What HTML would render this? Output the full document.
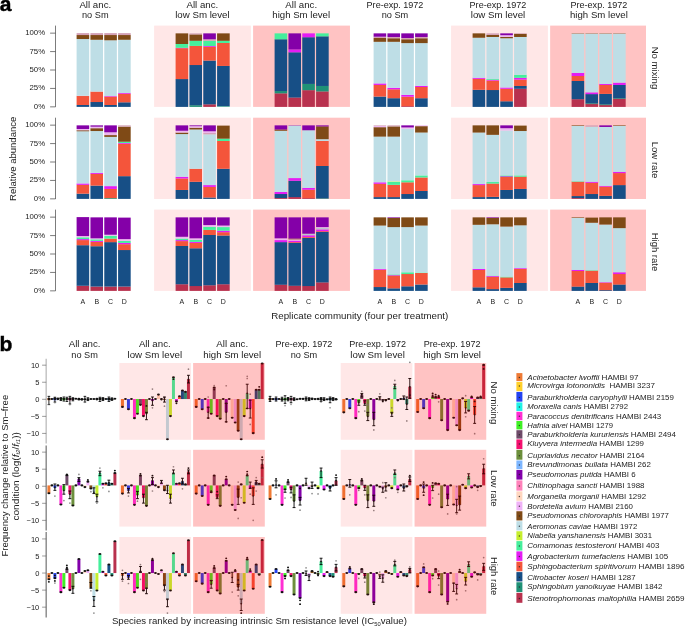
<!DOCTYPE html>
<html lang="en"><head><meta charset="utf-8"><title>Figure</title>
<style>
html,body{margin:0;padding:0;background:#fff;}
body{width:685px;height:627px;overflow:hidden;font-family:"Liberation Sans", sans-serif;}
svg{display:block;}
text{white-space:pre;}
</style></head><body>
<svg width="685" height="627" viewBox="0 0 685 627" font-family='"Liberation Sans", sans-serif' shape-rendering="auto">
<rect x="154.1" y="25.6" width="96.75" height="81.3" fill="#FFE7E7"/>
<rect x="253.1" y="25.6" width="96.85" height="81.3" fill="#FFC3C3"/>
<rect x="451.05" y="25.6" width="96.85" height="81.3" fill="#FFE7E7"/>
<rect x="550.15" y="25.6" width="95.85" height="81.3" fill="#FFC3C3"/>
<path d="M55.5 25.6V106.9" stroke="#444" stroke-width="0.7" fill="none"/>
<path d="M50.1 33.15H55.5" stroke="#444" stroke-width="0.7" fill="none"/>
<text x="45.1" y="35.15" font-size="7.8" text-anchor="end" fill="#222">100%</text>
<path d="M50.1 51.58H55.5" stroke="#444" stroke-width="0.7" fill="none"/>
<text x="45.1" y="53.58" font-size="7.8" text-anchor="end" fill="#222">75%</text>
<path d="M50.1 70H55.5" stroke="#444" stroke-width="0.7" fill="none"/>
<text x="45.1" y="72" font-size="7.8" text-anchor="end" fill="#222">50%</text>
<path d="M50.1 88.43H55.5" stroke="#444" stroke-width="0.7" fill="none"/>
<text x="45.1" y="90.43" font-size="7.8" text-anchor="end" fill="#222">25%</text>
<path d="M50.1 106.85H55.5" stroke="#444" stroke-width="0.7" fill="none"/>
<text x="45.1" y="108.85" font-size="7.8" text-anchor="end" fill="#222">0%</text>
<rect x="76.6" y="104.94" width="12.6" height="1.96" fill="#174F86"/>
<rect x="76.6" y="96.01" width="12.6" height="8.98" fill="#F4553B"/>
<rect x="76.6" y="95.62" width="12.6" height="0.43" fill="#D3A0B5"/>
<rect x="76.6" y="38.97" width="12.6" height="56.7" fill="#BEDEE6"/>
<rect x="76.6" y="35.02" width="12.6" height="4.01" fill="#7F4A16"/>
<rect x="76.6" y="33.1" width="12.6" height="1.96" fill="#D3A0B5"/>
<rect x="90.43" y="102" width="12.6" height="4.9" fill="#174F86"/>
<rect x="90.43" y="91.54" width="12.6" height="10.51" fill="#F4553B"/>
<rect x="90.43" y="39.74" width="12.6" height="51.85" fill="#BEDEE6"/>
<rect x="90.43" y="35.02" width="12.6" height="4.77" fill="#7F4A16"/>
<rect x="90.43" y="33.1" width="12.6" height="1.96" fill="#D3A0B5"/>
<rect x="104.26" y="104.94" width="12.6" height="1.96" fill="#174F86"/>
<rect x="104.26" y="96.52" width="12.6" height="8.47" fill="#F4553B"/>
<rect x="104.26" y="96.01" width="12.6" height="0.56" fill="#E41CF4"/>
<rect x="104.26" y="40.25" width="12.6" height="55.81" fill="#BEDEE6"/>
<rect x="104.26" y="35.02" width="12.6" height="5.28" fill="#7F4A16"/>
<rect x="104.26" y="33.1" width="12.6" height="1.96" fill="#D3A0B5"/>
<rect x="118.09" y="102.26" width="12.6" height="4.64" fill="#174F86"/>
<rect x="118.09" y="93.71" width="12.6" height="8.6" fill="#F4553B"/>
<rect x="118.09" y="92.94" width="12.6" height="0.82" fill="#E41CF4"/>
<rect x="118.09" y="39.74" width="12.6" height="53.26" fill="#BEDEE6"/>
<rect x="118.09" y="35.02" width="12.6" height="4.77" fill="#7F4A16"/>
<rect x="118.09" y="33.1" width="12.6" height="1.96" fill="#D3A0B5"/>
<rect x="175.6" y="79.04" width="12.6" height="27.86" fill="#174F86"/>
<rect x="175.6" y="48.16" width="12.6" height="30.93" fill="#F4553B"/>
<rect x="175.6" y="47.78" width="12.6" height="0.43" fill="#E41CF4"/>
<rect x="175.6" y="43.95" width="12.6" height="3.88" fill="#45EF9C"/>
<rect x="175.6" y="33.36" width="12.6" height="10.64" fill="#7F4A16"/>
<rect x="189.43" y="105.19" width="12.6" height="1.71" fill="#1F9176"/>
<rect x="189.43" y="65" width="12.6" height="40.24" fill="#174F86"/>
<rect x="189.43" y="45.86" width="12.6" height="19.19" fill="#F4553B"/>
<rect x="189.43" y="40.76" width="12.6" height="5.15" fill="#45EF9C"/>
<rect x="189.43" y="34.38" width="12.6" height="6.43" fill="#7F4A16"/>
<rect x="189.43" y="33.36" width="12.6" height="1.07" fill="#D3A0B5"/>
<rect x="203.26" y="104.3" width="12.6" height="2.6" fill="#B8314E"/>
<rect x="203.26" y="60.54" width="12.6" height="43.81" fill="#174F86"/>
<rect x="203.26" y="46.76" width="12.6" height="13.83" fill="#F4553B"/>
<rect x="203.26" y="45.99" width="12.6" height="0.82" fill="#E41CF4"/>
<rect x="203.26" y="40.76" width="12.6" height="5.28" fill="#45EF9C"/>
<rect x="203.26" y="39.23" width="12.6" height="1.58" fill="#D3A0B5"/>
<rect x="203.26" y="33.36" width="12.6" height="5.92" fill="#8400A8"/>
<rect x="217.09" y="106.34" width="12.6" height="0.56" fill="#45EF9C"/>
<rect x="217.09" y="65.89" width="12.6" height="40.5" fill="#174F86"/>
<rect x="217.09" y="42.93" width="12.6" height="23.02" fill="#F4553B"/>
<rect x="217.09" y="40.76" width="12.6" height="2.22" fill="#45EF9C"/>
<rect x="217.09" y="33.36" width="12.6" height="7.45" fill="#7F4A16"/>
<rect x="274.6" y="93.33" width="12.6" height="13.57" fill="#B8314E"/>
<rect x="274.6" y="91.03" width="12.6" height="2.35" fill="#1F9176"/>
<rect x="274.6" y="39.23" width="12.6" height="51.85" fill="#174F86"/>
<rect x="274.6" y="33.36" width="12.6" height="5.92" fill="#45EF9C"/>
<rect x="288.43" y="97.54" width="12.6" height="9.36" fill="#B8314E"/>
<rect x="288.43" y="52.24" width="12.6" height="45.35" fill="#174F86"/>
<rect x="288.43" y="49.44" width="12.6" height="2.86" fill="#E41CF4"/>
<rect x="288.43" y="33.36" width="12.6" height="16.13" fill="#8400A8"/>
<rect x="302.26" y="90.14" width="12.6" height="16.76" fill="#B8314E"/>
<rect x="302.26" y="83.89" width="12.6" height="6.3" fill="#1F9176"/>
<rect x="302.26" y="37.19" width="12.6" height="46.75" fill="#174F86"/>
<rect x="302.26" y="33.36" width="12.6" height="3.88" fill="#E41CF4"/>
<rect x="316.09" y="91.41" width="12.6" height="15.49" fill="#B8314E"/>
<rect x="316.09" y="85.93" width="12.6" height="5.54" fill="#1F9176"/>
<rect x="316.09" y="36.29" width="12.6" height="49.68" fill="#174F86"/>
<rect x="316.09" y="33.36" width="12.6" height="2.98" fill="#45EF9C"/>
<rect x="373.6" y="96.52" width="12.6" height="10.38" fill="#174F86"/>
<rect x="373.6" y="84.91" width="12.6" height="11.66" fill="#F4553B"/>
<rect x="373.6" y="83.37" width="12.6" height="1.58" fill="#E41CF4"/>
<rect x="373.6" y="41.78" width="12.6" height="41.64" fill="#BEDEE6"/>
<rect x="373.6" y="37.95" width="12.6" height="3.88" fill="#7F4A16"/>
<rect x="373.6" y="36.68" width="12.6" height="1.33" fill="#D3A0B5"/>
<rect x="373.6" y="33.36" width="12.6" height="3.37" fill="#8400A8"/>
<rect x="387.43" y="98.18" width="12.6" height="8.73" fill="#174F86"/>
<rect x="387.43" y="89.24" width="12.6" height="8.98" fill="#F4553B"/>
<rect x="387.43" y="87.71" width="12.6" height="1.58" fill="#E41CF4"/>
<rect x="387.43" y="41.78" width="12.6" height="45.98" fill="#BEDEE6"/>
<rect x="387.43" y="38.21" width="12.6" height="3.62" fill="#7F4A16"/>
<rect x="387.43" y="36.93" width="12.6" height="1.33" fill="#D3A0B5"/>
<rect x="387.43" y="33.36" width="12.6" height="3.62" fill="#8400A8"/>
<rect x="401.26" y="106.09" width="12.6" height="0.82" fill="#B8314E"/>
<rect x="401.26" y="96.64" width="12.6" height="9.49" fill="#F4553B"/>
<rect x="401.26" y="94.86" width="12.6" height="1.84" fill="#E41CF4"/>
<rect x="401.26" y="43.06" width="12.6" height="51.85" fill="#BEDEE6"/>
<rect x="401.26" y="39.23" width="12.6" height="3.88" fill="#7F4A16"/>
<rect x="401.26" y="37.95" width="12.6" height="1.33" fill="#D3A0B5"/>
<rect x="401.26" y="33.36" width="12.6" height="4.64" fill="#8400A8"/>
<rect x="415.09" y="98.18" width="12.6" height="8.73" fill="#174F86"/>
<rect x="415.09" y="86.95" width="12.6" height="11.28" fill="#F4553B"/>
<rect x="415.09" y="85.8" width="12.6" height="1.2" fill="#E41CF4"/>
<rect x="415.09" y="43.06" width="12.6" height="42.79" fill="#BEDEE6"/>
<rect x="415.09" y="38.21" width="12.6" height="4.9" fill="#7F4A16"/>
<rect x="415.09" y="36.93" width="12.6" height="1.33" fill="#D3A0B5"/>
<rect x="415.09" y="33.36" width="12.6" height="3.62" fill="#8400A8"/>
<rect x="472.6" y="89.75" width="12.6" height="17.15" fill="#174F86"/>
<rect x="472.6" y="78.78" width="12.6" height="11.02" fill="#F4553B"/>
<rect x="472.6" y="77.76" width="12.6" height="1.07" fill="#E41CF4"/>
<rect x="472.6" y="37.7" width="12.6" height="40.11" fill="#BEDEE6"/>
<rect x="472.6" y="33.36" width="12.6" height="4.39" fill="#7F4A16"/>
<rect x="486.43" y="90.01" width="12.6" height="16.89" fill="#174F86"/>
<rect x="486.43" y="80.57" width="12.6" height="9.49" fill="#F4553B"/>
<rect x="486.43" y="79.8" width="12.6" height="0.82" fill="#E41CF4"/>
<rect x="486.43" y="79.04" width="12.6" height="0.82" fill="#45EF9C"/>
<rect x="486.43" y="36.93" width="12.6" height="42.16" fill="#BEDEE6"/>
<rect x="486.43" y="34.89" width="12.6" height="2.09" fill="#7F4A16"/>
<rect x="486.43" y="33.36" width="12.6" height="1.58" fill="#D3A0B5"/>
<rect x="500.26" y="101.24" width="12.6" height="5.66" fill="#174F86"/>
<rect x="500.26" y="88.73" width="12.6" height="12.55" fill="#F4553B"/>
<rect x="500.26" y="87.46" width="12.6" height="1.33" fill="#E41CF4"/>
<rect x="500.26" y="38.21" width="12.6" height="49.3" fill="#BEDEE6"/>
<rect x="500.26" y="36.93" width="12.6" height="1.33" fill="#7F4A16"/>
<rect x="500.26" y="35.15" width="12.6" height="1.84" fill="#EDB6EF"/>
<rect x="500.26" y="33.36" width="12.6" height="1.84" fill="#8400A8"/>
<rect x="514.09" y="88.73" width="12.6" height="18.17" fill="#B8314E"/>
<rect x="514.09" y="85.93" width="12.6" height="2.86" fill="#174F86"/>
<rect x="514.09" y="79.55" width="12.6" height="6.43" fill="#F4553B"/>
<rect x="514.09" y="77.76" width="12.6" height="1.84" fill="#E41CF4"/>
<rect x="514.09" y="74.7" width="12.6" height="3.11" fill="#45EF9C"/>
<rect x="514.09" y="36.93" width="12.6" height="37.82" fill="#BEDEE6"/>
<rect x="514.09" y="33.87" width="12.6" height="3.11" fill="#7F4A16"/>
<rect x="514.09" y="33.36" width="12.6" height="0.56" fill="#D3A0B5"/>
<rect x="571.6" y="99.2" width="12.6" height="7.71" fill="#B8314E"/>
<rect x="571.6" y="80.95" width="12.6" height="18.3" fill="#174F86"/>
<rect x="571.6" y="75.97" width="12.6" height="5.03" fill="#F4553B"/>
<rect x="571.6" y="72.91" width="12.6" height="3.11" fill="#E41CF4"/>
<rect x="571.6" y="33.61" width="12.6" height="39.35" fill="#BEDEE6"/>
<rect x="571.6" y="33.36" width="12.6" height="0.31" fill="#7F4A16"/>
<rect x="585.43" y="104.04" width="12.6" height="2.86" fill="#B8314E"/>
<rect x="585.43" y="103.28" width="12.6" height="0.82" fill="#1F9176"/>
<rect x="585.43" y="94.09" width="12.6" height="9.24" fill="#174F86"/>
<rect x="585.43" y="92.31" width="12.6" height="1.84" fill="#E41CF4"/>
<rect x="585.43" y="33.61" width="12.6" height="58.74" fill="#BEDEE6"/>
<rect x="585.43" y="33.36" width="12.6" height="0.31" fill="#7F4A16"/>
<rect x="599.26" y="105.07" width="12.6" height="1.84" fill="#B8314E"/>
<rect x="599.26" y="104.3" width="12.6" height="0.82" fill="#1F9176"/>
<rect x="599.26" y="93.84" width="12.6" height="10.51" fill="#174F86"/>
<rect x="599.26" y="84.91" width="12.6" height="8.98" fill="#F4553B"/>
<rect x="599.26" y="83.89" width="12.6" height="1.07" fill="#E41CF4"/>
<rect x="599.26" y="33.61" width="12.6" height="50.32" fill="#BEDEE6"/>
<rect x="599.26" y="33.36" width="12.6" height="0.31" fill="#7F4A16"/>
<rect x="613.09" y="98.81" width="12.6" height="8.09" fill="#B8314E"/>
<rect x="613.09" y="98.18" width="12.6" height="0.69" fill="#1F9176"/>
<rect x="613.09" y="84.91" width="12.6" height="13.32" fill="#174F86"/>
<rect x="613.09" y="82.61" width="12.6" height="2.35" fill="#E41CF4"/>
<rect x="613.09" y="33.61" width="12.6" height="49.05" fill="#BEDEE6"/>
<rect x="613.09" y="33.36" width="12.6" height="0.31" fill="#7F4A16"/>
<rect x="154.1" y="117.7" width="96.75" height="81.3" fill="#FFE7E7"/>
<rect x="253.1" y="117.7" width="96.85" height="81.3" fill="#FFC3C3"/>
<rect x="451.05" y="117.7" width="96.85" height="81.3" fill="#FFE7E7"/>
<rect x="550.15" y="117.7" width="95.85" height="81.3" fill="#FFC3C3"/>
<path d="M55.5 117.7V199" stroke="#444" stroke-width="0.7" fill="none"/>
<path d="M50.1 125.15H55.5" stroke="#444" stroke-width="0.7" fill="none"/>
<text x="45.1" y="127.15" font-size="7.8" text-anchor="end" fill="#222">100%</text>
<path d="M50.1 143.58H55.5" stroke="#444" stroke-width="0.7" fill="none"/>
<text x="45.1" y="145.58" font-size="7.8" text-anchor="end" fill="#222">75%</text>
<path d="M50.1 162H55.5" stroke="#444" stroke-width="0.7" fill="none"/>
<text x="45.1" y="164" font-size="7.8" text-anchor="end" fill="#222">50%</text>
<path d="M50.1 180.43H55.5" stroke="#444" stroke-width="0.7" fill="none"/>
<text x="45.1" y="182.43" font-size="7.8" text-anchor="end" fill="#222">25%</text>
<path d="M50.1 198.85H55.5" stroke="#444" stroke-width="0.7" fill="none"/>
<text x="45.1" y="200.85" font-size="7.8" text-anchor="end" fill="#222">0%</text>
<rect x="76.6" y="193.62" width="12.6" height="5.28" fill="#174F86"/>
<rect x="76.6" y="184.82" width="12.6" height="8.85" fill="#F4553B"/>
<rect x="76.6" y="183.41" width="12.6" height="1.45" fill="#E41CF4"/>
<rect x="76.6" y="131.23" width="12.6" height="52.24" fill="#BEDEE6"/>
<rect x="76.6" y="130.21" width="12.6" height="1.07" fill="#7F4A16"/>
<rect x="76.6" y="128.93" width="12.6" height="1.33" fill="#EDB6EF"/>
<rect x="76.6" y="125.36" width="12.6" height="3.62" fill="#8400A8"/>
<rect x="90.43" y="185.58" width="12.6" height="13.32" fill="#174F86"/>
<rect x="90.43" y="173.84" width="12.6" height="11.79" fill="#F4553B"/>
<rect x="90.43" y="172.82" width="12.6" height="1.07" fill="#E41CF4"/>
<rect x="90.43" y="130.97" width="12.6" height="41.9" fill="#BEDEE6"/>
<rect x="90.43" y="128.17" width="12.6" height="2.86" fill="#7F4A16"/>
<rect x="90.43" y="126.63" width="12.6" height="1.58" fill="#EDB6EF"/>
<rect x="90.43" y="125.36" width="12.6" height="1.33" fill="#8400A8"/>
<rect x="104.26" y="198.09" width="12.6" height="0.82" fill="#1F9176"/>
<rect x="104.26" y="188.9" width="12.6" height="9.24" fill="#F4553B"/>
<rect x="104.26" y="186.09" width="12.6" height="2.86" fill="#E41CF4"/>
<rect x="104.26" y="136.84" width="12.6" height="49.3" fill="#BEDEE6"/>
<rect x="104.26" y="135.06" width="12.6" height="1.84" fill="#7F4A16"/>
<rect x="104.26" y="132.25" width="12.6" height="2.86" fill="#EDB6EF"/>
<rect x="104.26" y="125.36" width="12.6" height="6.94" fill="#8400A8"/>
<rect x="118.09" y="176.14" width="12.6" height="22.76" fill="#174F86"/>
<rect x="118.09" y="143.73" width="12.6" height="32.46" fill="#F4553B"/>
<rect x="118.09" y="142.97" width="12.6" height="0.82" fill="#E41CF4"/>
<rect x="118.09" y="141.69" width="12.6" height="1.33" fill="#45EF9C"/>
<rect x="118.09" y="126.63" width="12.6" height="15.11" fill="#7F4A16"/>
<rect x="118.09" y="125.36" width="12.6" height="1.33" fill="#D3A0B5"/>
<rect x="175.6" y="189.92" width="12.6" height="8.98" fill="#174F86"/>
<rect x="175.6" y="178.44" width="12.6" height="11.53" fill="#F4553B"/>
<rect x="175.6" y="176.78" width="12.6" height="1.71" fill="#E41CF4"/>
<rect x="175.6" y="134.04" width="12.6" height="42.79" fill="#BEDEE6"/>
<rect x="175.6" y="132.5" width="12.6" height="1.58" fill="#7F4A16"/>
<rect x="175.6" y="130.72" width="12.6" height="1.84" fill="#EDB6EF"/>
<rect x="175.6" y="125.36" width="12.6" height="5.41" fill="#8400A8"/>
<rect x="189.43" y="181.75" width="12.6" height="17.15" fill="#174F86"/>
<rect x="189.43" y="168.74" width="12.6" height="13.06" fill="#F4553B"/>
<rect x="189.43" y="129.44" width="12.6" height="39.35" fill="#BEDEE6"/>
<rect x="189.43" y="127.66" width="12.6" height="1.84" fill="#7F4A16"/>
<rect x="189.43" y="126.12" width="12.6" height="1.58" fill="#EDB6EF"/>
<rect x="189.43" y="125.36" width="12.6" height="0.82" fill="#8400A8"/>
<rect x="203.26" y="197.45" width="12.6" height="1.45" fill="#174F86"/>
<rect x="203.26" y="186.86" width="12.6" height="10.64" fill="#F4553B"/>
<rect x="203.26" y="185.07" width="12.6" height="1.84" fill="#E41CF4"/>
<rect x="203.26" y="134.29" width="12.6" height="50.83" fill="#BEDEE6"/>
<rect x="203.26" y="133.01" width="12.6" height="1.33" fill="#D3A0B5"/>
<rect x="203.26" y="131.23" width="12.6" height="1.84" fill="#EDB6EF"/>
<rect x="203.26" y="125.36" width="12.6" height="5.92" fill="#8400A8"/>
<rect x="217.09" y="168.74" width="12.6" height="30.16" fill="#174F86"/>
<rect x="217.09" y="140.93" width="12.6" height="27.86" fill="#F4553B"/>
<rect x="217.09" y="138.63" width="12.6" height="2.35" fill="#45EF9C"/>
<rect x="217.09" y="125.61" width="12.6" height="13.06" fill="#7F4A16"/>
<rect x="274.6" y="198.09" width="12.6" height="0.82" fill="#B8314E"/>
<rect x="274.6" y="194" width="12.6" height="4.13" fill="#174F86"/>
<rect x="274.6" y="191.96" width="12.6" height="2.09" fill="#E41CF4"/>
<rect x="274.6" y="130.72" width="12.6" height="61.29" fill="#BEDEE6"/>
<rect x="274.6" y="129.44" width="12.6" height="1.33" fill="#7F4A16"/>
<rect x="274.6" y="125.36" width="12.6" height="4.13" fill="#8400A8"/>
<rect x="288.43" y="197.07" width="12.6" height="1.84" fill="#B8314E"/>
<rect x="288.43" y="180.73" width="12.6" height="16.38" fill="#174F86"/>
<rect x="288.43" y="178.05" width="12.6" height="2.73" fill="#E41CF4"/>
<rect x="288.43" y="125.61" width="12.6" height="52.49" fill="#BEDEE6"/>
<rect x="288.43" y="125.36" width="12.6" height="0.31" fill="#8400A8"/>
<rect x="302.26" y="198.09" width="12.6" height="0.82" fill="#B8314E"/>
<rect x="302.26" y="189.67" width="12.6" height="8.47" fill="#F4553B"/>
<rect x="302.26" y="187.88" width="12.6" height="1.84" fill="#E41CF4"/>
<rect x="302.26" y="130.21" width="12.6" height="57.72" fill="#BEDEE6"/>
<rect x="302.26" y="125.36" width="12.6" height="4.9" fill="#8400A8"/>
<rect x="316.09" y="198.34" width="12.6" height="0.56" fill="#1F9176"/>
<rect x="316.09" y="165.93" width="12.6" height="32.46" fill="#174F86"/>
<rect x="316.09" y="140.93" width="12.6" height="25.06" fill="#F4553B"/>
<rect x="316.09" y="139.14" width="12.6" height="1.84" fill="#BEDEE6"/>
<rect x="316.09" y="126.38" width="12.6" height="12.81" fill="#7F4A16"/>
<rect x="316.09" y="125.36" width="12.6" height="1.07" fill="#8400A8"/>
<rect x="373.6" y="197.07" width="12.6" height="1.84" fill="#174F86"/>
<rect x="373.6" y="183.8" width="12.6" height="13.32" fill="#F4553B"/>
<rect x="373.6" y="182.26" width="12.6" height="1.58" fill="#E41CF4"/>
<rect x="373.6" y="136.59" width="12.6" height="45.73" fill="#BEDEE6"/>
<rect x="373.6" y="127.15" width="12.6" height="9.49" fill="#7F4A16"/>
<rect x="373.6" y="125.87" width="12.6" height="1.33" fill="#EDB6EF"/>
<rect x="373.6" y="125.36" width="12.6" height="0.56" fill="#D3A0B5"/>
<rect x="387.43" y="197.07" width="12.6" height="1.84" fill="#174F86"/>
<rect x="387.43" y="184.82" width="12.6" height="12.3" fill="#F4553B"/>
<rect x="387.43" y="181.75" width="12.6" height="3.11" fill="#45EF9C"/>
<rect x="387.43" y="181.24" width="12.6" height="0.56" fill="#D8F060"/>
<rect x="387.43" y="136.59" width="12.6" height="44.71" fill="#BEDEE6"/>
<rect x="387.43" y="126.38" width="12.6" height="10.26" fill="#7F4A16"/>
<rect x="387.43" y="125.36" width="12.6" height="1.07" fill="#D3A0B5"/>
<rect x="401.26" y="194" width="12.6" height="4.9" fill="#174F86"/>
<rect x="401.26" y="182.26" width="12.6" height="11.79" fill="#F4553B"/>
<rect x="401.26" y="180.22" width="12.6" height="2.09" fill="#45EF9C"/>
<rect x="401.26" y="128.68" width="12.6" height="51.6" fill="#BEDEE6"/>
<rect x="401.26" y="127.4" width="12.6" height="1.33" fill="#EDB6EF"/>
<rect x="401.26" y="125.36" width="12.6" height="2.09" fill="#8400A8"/>
<rect x="415.09" y="190.94" width="12.6" height="7.96" fill="#174F86"/>
<rect x="415.09" y="177.42" width="12.6" height="13.57" fill="#F4553B"/>
<rect x="415.09" y="175.37" width="12.6" height="2.09" fill="#45EF9C"/>
<rect x="415.09" y="132.5" width="12.6" height="42.92" fill="#BEDEE6"/>
<rect x="415.09" y="126.12" width="12.6" height="6.43" fill="#7F4A16"/>
<rect x="415.09" y="125.36" width="12.6" height="0.82" fill="#EDB6EF"/>
<rect x="472.6" y="197.07" width="12.6" height="1.84" fill="#174F86"/>
<rect x="472.6" y="185.07" width="12.6" height="12.04" fill="#F4553B"/>
<rect x="472.6" y="184.05" width="12.6" height="1.07" fill="#E41CF4"/>
<rect x="472.6" y="132.5" width="12.6" height="51.6" fill="#BEDEE6"/>
<rect x="472.6" y="125.36" width="12.6" height="7.2" fill="#7F4A16"/>
<rect x="486.43" y="196.81" width="12.6" height="2.09" fill="#174F86"/>
<rect x="486.43" y="183.54" width="12.6" height="13.32" fill="#F4553B"/>
<rect x="486.43" y="182.01" width="12.6" height="1.58" fill="#45EF9C"/>
<rect x="486.43" y="134.8" width="12.6" height="47.26" fill="#BEDEE6"/>
<rect x="486.43" y="125.36" width="12.6" height="9.49" fill="#7F4A16"/>
<rect x="500.26" y="189.92" width="12.6" height="8.98" fill="#174F86"/>
<rect x="500.26" y="176.91" width="12.6" height="13.06" fill="#F4553B"/>
<rect x="500.26" y="176.14" width="12.6" height="0.82" fill="#B040D8"/>
<rect x="500.26" y="175.37" width="12.6" height="0.82" fill="#45EF9C"/>
<rect x="500.26" y="130.46" width="12.6" height="44.96" fill="#BEDEE6"/>
<rect x="500.26" y="128.17" width="12.6" height="2.35" fill="#EDB6EF"/>
<rect x="500.26" y="125.36" width="12.6" height="2.86" fill="#8400A8"/>
<rect x="514.09" y="188.9" width="12.6" height="10" fill="#174F86"/>
<rect x="514.09" y="176.65" width="12.6" height="12.3" fill="#F4553B"/>
<rect x="514.09" y="175.37" width="12.6" height="1.33" fill="#45EF9C"/>
<rect x="514.09" y="130.97" width="12.6" height="44.45" fill="#BEDEE6"/>
<rect x="514.09" y="125.61" width="12.6" height="5.41" fill="#7F4A16"/>
<rect x="571.6" y="198.09" width="12.6" height="0.82" fill="#B8314E"/>
<rect x="571.6" y="196.04" width="12.6" height="2.09" fill="#174F86"/>
<rect x="571.6" y="181.75" width="12.6" height="14.34" fill="#F4553B"/>
<rect x="571.6" y="181.24" width="12.6" height="0.56" fill="#45EF9C"/>
<rect x="571.6" y="125.87" width="12.6" height="55.42" fill="#BEDEE6"/>
<rect x="571.6" y="125.36" width="12.6" height="0.56" fill="#7F4A16"/>
<rect x="585.43" y="194" width="12.6" height="4.9" fill="#174F86"/>
<rect x="585.43" y="182.78" width="12.6" height="11.28" fill="#F4553B"/>
<rect x="585.43" y="181.75" width="12.6" height="1.07" fill="#E41CF4"/>
<rect x="585.43" y="126.63" width="12.6" height="55.17" fill="#BEDEE6"/>
<rect x="585.43" y="125.36" width="12.6" height="1.33" fill="#D3A0B5"/>
<rect x="599.26" y="195.79" width="12.6" height="3.11" fill="#174F86"/>
<rect x="599.26" y="186.6" width="12.6" height="9.24" fill="#F4553B"/>
<rect x="599.26" y="185.84" width="12.6" height="0.82" fill="#E41CF4"/>
<rect x="599.26" y="126.89" width="12.6" height="59" fill="#BEDEE6"/>
<rect x="599.26" y="125.36" width="12.6" height="1.58" fill="#8400A8"/>
<rect x="613.09" y="185.07" width="12.6" height="13.83" fill="#174F86"/>
<rect x="613.09" y="173.08" width="12.6" height="12.04" fill="#F4553B"/>
<rect x="613.09" y="171.8" width="12.6" height="1.33" fill="#E41CF4"/>
<rect x="613.09" y="125.87" width="12.6" height="45.98" fill="#BEDEE6"/>
<rect x="613.09" y="125.36" width="12.6" height="0.56" fill="#7F4A16"/>
<rect x="154.1" y="209.6" width="96.75" height="81.3" fill="#FFE7E7"/>
<rect x="253.1" y="209.6" width="96.85" height="81.3" fill="#FFC3C3"/>
<rect x="451.05" y="209.6" width="96.85" height="81.3" fill="#FFE7E7"/>
<rect x="550.15" y="209.6" width="95.85" height="81.3" fill="#FFC3C3"/>
<path d="M55.5 209.6V290.9" stroke="#444" stroke-width="0.7" fill="none"/>
<path d="M50.1 217.15H55.5" stroke="#444" stroke-width="0.7" fill="none"/>
<text x="45.1" y="219.15" font-size="7.8" text-anchor="end" fill="#222">100%</text>
<path d="M50.1 235.58H55.5" stroke="#444" stroke-width="0.7" fill="none"/>
<text x="45.1" y="237.58" font-size="7.8" text-anchor="end" fill="#222">75%</text>
<path d="M50.1 254H55.5" stroke="#444" stroke-width="0.7" fill="none"/>
<text x="45.1" y="256" font-size="7.8" text-anchor="end" fill="#222">50%</text>
<path d="M50.1 272.43H55.5" stroke="#444" stroke-width="0.7" fill="none"/>
<text x="45.1" y="274.43" font-size="7.8" text-anchor="end" fill="#222">25%</text>
<path d="M50.1 290.85H55.5" stroke="#444" stroke-width="0.7" fill="none"/>
<text x="45.1" y="292.85" font-size="7.8" text-anchor="end" fill="#222">0%</text>
<rect x="76.6" y="285.75" width="12.6" height="5.15" fill="#B8314E"/>
<rect x="76.6" y="245.17" width="12.6" height="40.62" fill="#174F86"/>
<rect x="76.6" y="240.07" width="12.6" height="5.15" fill="#F4553B"/>
<rect x="76.6" y="239.05" width="12.6" height="1.07" fill="#E41CF4"/>
<rect x="76.6" y="237.26" width="12.6" height="1.84" fill="#45EF9C"/>
<rect x="76.6" y="235.99" width="12.6" height="1.33" fill="#EDB6EF"/>
<rect x="76.6" y="217.1" width="12.6" height="18.93" fill="#8400A8"/>
<rect x="90.43" y="286.51" width="12.6" height="4.39" fill="#B8314E"/>
<rect x="90.43" y="246.19" width="12.6" height="40.37" fill="#174F86"/>
<rect x="90.43" y="241.86" width="12.6" height="4.39" fill="#F4553B"/>
<rect x="90.43" y="240.84" width="12.6" height="1.07" fill="#E41CF4"/>
<rect x="90.43" y="239.3" width="12.6" height="1.58" fill="#45EF9C"/>
<rect x="90.43" y="238.28" width="12.6" height="1.07" fill="#EDB6EF"/>
<rect x="90.43" y="217.36" width="12.6" height="20.98" fill="#8400A8"/>
<rect x="104.26" y="286.51" width="12.6" height="4.39" fill="#B8314E"/>
<rect x="104.26" y="242.11" width="12.6" height="44.45" fill="#174F86"/>
<rect x="104.26" y="238.54" width="12.6" height="3.62" fill="#F4553B"/>
<rect x="104.26" y="235.73" width="12.6" height="2.86" fill="#45EF9C"/>
<rect x="104.26" y="234.71" width="12.6" height="1.07" fill="#EDB6EF"/>
<rect x="104.26" y="217.36" width="12.6" height="17.4" fill="#8400A8"/>
<rect x="118.09" y="286.51" width="12.6" height="4.39" fill="#B8314E"/>
<rect x="118.09" y="250.02" width="12.6" height="36.54" fill="#174F86"/>
<rect x="118.09" y="244.15" width="12.6" height="5.92" fill="#F4553B"/>
<rect x="118.09" y="242.88" width="12.6" height="1.33" fill="#E41CF4"/>
<rect x="118.09" y="240.84" width="12.6" height="2.09" fill="#45EF9C"/>
<rect x="118.09" y="239.05" width="12.6" height="1.84" fill="#EDB6EF"/>
<rect x="118.09" y="217.61" width="12.6" height="21.49" fill="#8400A8"/>
<rect x="175.6" y="284.22" width="12.6" height="6.68" fill="#B8314E"/>
<rect x="175.6" y="245.94" width="12.6" height="38.33" fill="#174F86"/>
<rect x="175.6" y="241.09" width="12.6" height="4.9" fill="#F4553B"/>
<rect x="175.6" y="240.07" width="12.6" height="1.07" fill="#E41CF4"/>
<rect x="175.6" y="238.54" width="12.6" height="1.58" fill="#45EF9C"/>
<rect x="175.6" y="236.75" width="12.6" height="1.84" fill="#EDB6EF"/>
<rect x="175.6" y="217.36" width="12.6" height="19.44" fill="#8400A8"/>
<rect x="189.43" y="286" width="12.6" height="4.9" fill="#B8314E"/>
<rect x="189.43" y="248.24" width="12.6" height="37.82" fill="#174F86"/>
<rect x="189.43" y="242.88" width="12.6" height="5.41" fill="#F4553B"/>
<rect x="189.43" y="241.86" width="12.6" height="1.07" fill="#E41CF4"/>
<rect x="189.43" y="239.81" width="12.6" height="2.09" fill="#45EF9C"/>
<rect x="189.43" y="238.28" width="12.6" height="1.58" fill="#EDB6EF"/>
<rect x="189.43" y="217.36" width="12.6" height="20.98" fill="#8400A8"/>
<rect x="203.26" y="285.24" width="12.6" height="5.66" fill="#B8314E"/>
<rect x="203.26" y="234.97" width="12.6" height="50.32" fill="#174F86"/>
<rect x="203.26" y="229.86" width="12.6" height="5.15" fill="#F4553B"/>
<rect x="203.26" y="226.8" width="12.6" height="3.11" fill="#45EF9C"/>
<rect x="203.26" y="225.01" width="12.6" height="1.84" fill="#EDB6EF"/>
<rect x="203.26" y="217.36" width="12.6" height="7.71" fill="#8400A8"/>
<rect x="217.09" y="284.22" width="12.6" height="6.68" fill="#B8314E"/>
<rect x="217.09" y="235.48" width="12.6" height="48.79" fill="#174F86"/>
<rect x="217.09" y="232.16" width="12.6" height="3.37" fill="#F4553B"/>
<rect x="217.09" y="230.63" width="12.6" height="1.58" fill="#E41CF4"/>
<rect x="217.09" y="227.06" width="12.6" height="3.62" fill="#45EF9C"/>
<rect x="217.09" y="225.52" width="12.6" height="1.58" fill="#EDB6EF"/>
<rect x="217.09" y="217.36" width="12.6" height="8.22" fill="#8400A8"/>
<rect x="274.6" y="284.73" width="12.6" height="6.17" fill="#B8314E"/>
<rect x="274.6" y="242.11" width="12.6" height="42.67" fill="#174F86"/>
<rect x="274.6" y="240.07" width="12.6" height="2.09" fill="#E41CF4"/>
<rect x="274.6" y="238.28" width="12.6" height="1.84" fill="#EDB6EF"/>
<rect x="274.6" y="217.36" width="12.6" height="20.98" fill="#8400A8"/>
<rect x="288.43" y="285.75" width="12.6" height="5.15" fill="#B8314E"/>
<rect x="288.43" y="242.88" width="12.6" height="42.92" fill="#174F86"/>
<rect x="288.43" y="242.11" width="12.6" height="0.82" fill="#F4553B"/>
<rect x="288.43" y="240.58" width="12.6" height="1.58" fill="#E41CF4"/>
<rect x="288.43" y="239.3" width="12.6" height="1.33" fill="#EDB6EF"/>
<rect x="288.43" y="238.54" width="12.6" height="0.82" fill="#7F4A16"/>
<rect x="288.43" y="217.36" width="12.6" height="21.23" fill="#8400A8"/>
<rect x="302.26" y="286" width="12.6" height="4.9" fill="#B8314E"/>
<rect x="302.26" y="237.77" width="12.6" height="48.28" fill="#174F86"/>
<rect x="302.26" y="237.01" width="12.6" height="0.82" fill="#F4553B"/>
<rect x="302.26" y="235.22" width="12.6" height="1.84" fill="#E41CF4"/>
<rect x="302.26" y="233.69" width="12.6" height="1.58" fill="#B8C8CC"/>
<rect x="302.26" y="217.36" width="12.6" height="16.38" fill="#8400A8"/>
<rect x="316.09" y="282.43" width="12.6" height="8.47" fill="#B8314E"/>
<rect x="316.09" y="231.9" width="12.6" height="50.58" fill="#174F86"/>
<rect x="316.09" y="231.14" width="12.6" height="0.82" fill="#F4553B"/>
<rect x="316.09" y="229.35" width="12.6" height="1.84" fill="#E41CF4"/>
<rect x="316.09" y="227.82" width="12.6" height="1.58" fill="#B8C8CC"/>
<rect x="316.09" y="227.06" width="12.6" height="0.82" fill="#EDB6EF"/>
<rect x="316.09" y="217.36" width="12.6" height="9.75" fill="#8400A8"/>
<rect x="373.6" y="287.02" width="12.6" height="3.88" fill="#174F86"/>
<rect x="373.6" y="269.67" width="12.6" height="17.4" fill="#F4553B"/>
<rect x="373.6" y="268.91" width="12.6" height="0.82" fill="#E41CF4"/>
<rect x="373.6" y="225.52" width="12.6" height="43.43" fill="#BEDEE6"/>
<rect x="373.6" y="217.36" width="12.6" height="8.22" fill="#7F4A16"/>
<rect x="387.43" y="288.3" width="12.6" height="2.6" fill="#174F86"/>
<rect x="387.43" y="275.54" width="12.6" height="12.81" fill="#F4553B"/>
<rect x="387.43" y="274.78" width="12.6" height="0.82" fill="#B040D8"/>
<rect x="387.43" y="274.26" width="12.6" height="0.56" fill="#45EF9C"/>
<rect x="387.43" y="227.06" width="12.6" height="47.26" fill="#BEDEE6"/>
<rect x="387.43" y="217.87" width="12.6" height="9.24" fill="#7F4A16"/>
<rect x="387.43" y="217.36" width="12.6" height="0.56" fill="#8400A8"/>
<rect x="401.26" y="286.26" width="12.6" height="4.64" fill="#174F86"/>
<rect x="401.26" y="274.01" width="12.6" height="12.3" fill="#F4553B"/>
<rect x="401.26" y="272.22" width="12.6" height="1.84" fill="#45EF9C"/>
<rect x="401.26" y="227.06" width="12.6" height="45.22" fill="#BEDEE6"/>
<rect x="401.26" y="217.36" width="12.6" height="9.75" fill="#7F4A16"/>
<rect x="415.09" y="284.47" width="12.6" height="6.43" fill="#174F86"/>
<rect x="415.09" y="272.99" width="12.6" height="11.53" fill="#F4553B"/>
<rect x="415.09" y="272.48" width="12.6" height="0.56" fill="#45EF9C"/>
<rect x="415.09" y="225.52" width="12.6" height="47" fill="#BEDEE6"/>
<rect x="415.09" y="217.36" width="12.6" height="8.22" fill="#7F4A16"/>
<rect x="472.6" y="287.28" width="12.6" height="3.62" fill="#174F86"/>
<rect x="472.6" y="269.93" width="12.6" height="17.4" fill="#F4553B"/>
<rect x="472.6" y="268.91" width="12.6" height="1.07" fill="#E41CF4"/>
<rect x="472.6" y="224.76" width="12.6" height="44.2" fill="#BEDEE6"/>
<rect x="472.6" y="217.36" width="12.6" height="7.45" fill="#7F4A16"/>
<rect x="486.43" y="289.07" width="12.6" height="1.84" fill="#174F86"/>
<rect x="486.43" y="276.82" width="12.6" height="12.3" fill="#F4553B"/>
<rect x="486.43" y="276.05" width="12.6" height="0.82" fill="#E41CF4"/>
<rect x="486.43" y="275.54" width="12.6" height="0.56" fill="#45EF9C"/>
<rect x="486.43" y="224.25" width="12.6" height="51.34" fill="#BEDEE6"/>
<rect x="486.43" y="217.87" width="12.6" height="6.43" fill="#7F4A16"/>
<rect x="486.43" y="217.36" width="12.6" height="0.56" fill="#8400A8"/>
<rect x="500.26" y="287.79" width="12.6" height="3.11" fill="#174F86"/>
<rect x="500.26" y="277.33" width="12.6" height="10.51" fill="#F4553B"/>
<rect x="500.26" y="276.56" width="12.6" height="0.82" fill="#45EF9C"/>
<rect x="500.26" y="226.55" width="12.6" height="50.07" fill="#BEDEE6"/>
<rect x="500.26" y="217.36" width="12.6" height="9.24" fill="#7F4A16"/>
<rect x="514.09" y="282.94" width="12.6" height="7.96" fill="#174F86"/>
<rect x="514.09" y="268.91" width="12.6" height="14.09" fill="#F4553B"/>
<rect x="514.09" y="268.14" width="12.6" height="0.82" fill="#E41CF4"/>
<rect x="514.09" y="225.27" width="12.6" height="42.92" fill="#BEDEE6"/>
<rect x="514.09" y="217.36" width="12.6" height="7.96" fill="#7F4A16"/>
<rect x="571.6" y="286.51" width="12.6" height="4.39" fill="#174F86"/>
<rect x="571.6" y="270.95" width="12.6" height="15.62" fill="#F4553B"/>
<rect x="571.6" y="269.93" width="12.6" height="1.07" fill="#E41CF4"/>
<rect x="571.6" y="217.87" width="12.6" height="52.11" fill="#BEDEE6"/>
<rect x="571.6" y="217.36" width="12.6" height="0.56" fill="#7F4A16"/>
<rect x="585.43" y="282.94" width="12.6" height="7.96" fill="#174F86"/>
<rect x="585.43" y="270.69" width="12.6" height="12.3" fill="#F4553B"/>
<rect x="585.43" y="270.18" width="12.6" height="0.56" fill="#45EF9C"/>
<rect x="585.43" y="222.72" width="12.6" height="47.51" fill="#BEDEE6"/>
<rect x="585.43" y="217.61" width="12.6" height="5.15" fill="#7F4A16"/>
<rect x="599.26" y="290.09" width="12.6" height="0.82" fill="#174F86"/>
<rect x="599.26" y="282.69" width="12.6" height="7.45" fill="#F4553B"/>
<rect x="599.26" y="282.18" width="12.6" height="0.56" fill="#E41CF4"/>
<rect x="599.26" y="224.5" width="12.6" height="57.72" fill="#BEDEE6"/>
<rect x="599.26" y="217.36" width="12.6" height="7.2" fill="#7F4A16"/>
<rect x="613.09" y="284.47" width="12.6" height="6.43" fill="#174F86"/>
<rect x="613.09" y="274.01" width="12.6" height="10.51" fill="#F4553B"/>
<rect x="613.09" y="272.22" width="12.6" height="1.84" fill="#E41CF4"/>
<rect x="613.09" y="228.08" width="12.6" height="44.2" fill="#BEDEE6"/>
<rect x="613.09" y="217.36" width="12.6" height="10.77" fill="#7F4A16"/>
<text x="82.9" y="303.8" font-size="7" text-anchor="middle" fill="#222">A</text>
<text x="96.73" y="303.8" font-size="7" text-anchor="middle" fill="#222">B</text>
<text x="110.56" y="303.8" font-size="7" text-anchor="middle" fill="#222">C</text>
<text x="124.39" y="303.8" font-size="7" text-anchor="middle" fill="#222">D</text>
<text x="181.9" y="303.8" font-size="7" text-anchor="middle" fill="#222">A</text>
<text x="195.73" y="303.8" font-size="7" text-anchor="middle" fill="#222">B</text>
<text x="209.56" y="303.8" font-size="7" text-anchor="middle" fill="#222">C</text>
<text x="223.39" y="303.8" font-size="7" text-anchor="middle" fill="#222">D</text>
<text x="280.9" y="303.8" font-size="7" text-anchor="middle" fill="#222">A</text>
<text x="294.73" y="303.8" font-size="7" text-anchor="middle" fill="#222">B</text>
<text x="308.56" y="303.8" font-size="7" text-anchor="middle" fill="#222">C</text>
<text x="322.39" y="303.8" font-size="7" text-anchor="middle" fill="#222">D</text>
<text x="379.9" y="303.8" font-size="7" text-anchor="middle" fill="#222">A</text>
<text x="393.73" y="303.8" font-size="7" text-anchor="middle" fill="#222">B</text>
<text x="407.56" y="303.8" font-size="7" text-anchor="middle" fill="#222">C</text>
<text x="421.39" y="303.8" font-size="7" text-anchor="middle" fill="#222">D</text>
<text x="478.9" y="303.8" font-size="7" text-anchor="middle" fill="#222">A</text>
<text x="492.73" y="303.8" font-size="7" text-anchor="middle" fill="#222">B</text>
<text x="506.56" y="303.8" font-size="7" text-anchor="middle" fill="#222">C</text>
<text x="520.39" y="303.8" font-size="7" text-anchor="middle" fill="#222">D</text>
<text x="577.9" y="303.8" font-size="7" text-anchor="middle" fill="#222">A</text>
<text x="591.73" y="303.8" font-size="7" text-anchor="middle" fill="#222">B</text>
<text x="605.56" y="303.8" font-size="7" text-anchor="middle" fill="#222">C</text>
<text x="619.39" y="303.8" font-size="7" text-anchor="middle" fill="#222">D</text>
<text x="95.3" y="7.7" font-size="9" text-anchor="middle" fill="#222" textLength="31.8" lengthAdjust="spacingAndGlyphs">All anc.</text>
<text x="95.3" y="18.4" font-size="9" text-anchor="middle" fill="#222" textLength="26.6" lengthAdjust="spacingAndGlyphs">no Sm</text>
<text x="202.4" y="7.7" font-size="9" text-anchor="middle" fill="#222" textLength="31.8" lengthAdjust="spacingAndGlyphs">All anc.</text>
<text x="202.4" y="18.4" font-size="9" text-anchor="middle" fill="#222" textLength="54.5" lengthAdjust="spacingAndGlyphs">low Sm level</text>
<text x="301.2" y="7.7" font-size="9" text-anchor="middle" fill="#222" textLength="31.8" lengthAdjust="spacingAndGlyphs">All anc.</text>
<text x="301.2" y="18.4" font-size="9" text-anchor="middle" fill="#222" textLength="57.8" lengthAdjust="spacingAndGlyphs">high Sm level</text>
<text x="395" y="7.7" font-size="9" text-anchor="middle" fill="#222" textLength="56.8" lengthAdjust="spacingAndGlyphs">Pre-exp. 1972</text>
<text x="395" y="18.4" font-size="9" text-anchor="middle" fill="#222" textLength="26.6" lengthAdjust="spacingAndGlyphs">no Sm</text>
<text x="498" y="7.7" font-size="9" text-anchor="middle" fill="#222" textLength="56.8" lengthAdjust="spacingAndGlyphs">Pre-exp. 1972</text>
<text x="498" y="18.4" font-size="9" text-anchor="middle" fill="#222" textLength="54.5" lengthAdjust="spacingAndGlyphs">low Sm level</text>
<text x="598.9" y="7.7" font-size="9" text-anchor="middle" fill="#222" textLength="56.8" lengthAdjust="spacingAndGlyphs">Pre-exp. 1972</text>
<text x="598.9" y="18.4" font-size="9" text-anchor="middle" fill="#222" textLength="57.8" lengthAdjust="spacingAndGlyphs">high Sm level</text>
<text x="651.9" y="67.95" font-size="9" text-anchor="middle" fill="#222" transform="rotate(90 651.9 67.95)" textLength="42.6" lengthAdjust="spacingAndGlyphs">No mixing</text>
<text x="651.9" y="160.05" font-size="9" text-anchor="middle" fill="#222" transform="rotate(90 651.9 160.05)" textLength="36.8" lengthAdjust="spacingAndGlyphs">Low rate</text>
<text x="651.9" y="251.95" font-size="9" text-anchor="middle" fill="#222" transform="rotate(90 651.9 251.95)" textLength="38.5" lengthAdjust="spacingAndGlyphs">High rate</text>
<text x="16.4" y="158.8" font-size="9.2" text-anchor="middle" fill="#222" transform="rotate(-90 16.4 158.8)" textLength="84.2" lengthAdjust="spacingAndGlyphs">Relative abundance</text>
<text x="359.75" y="318.7" font-size="9.1" text-anchor="middle" fill="#222" textLength="177.1" lengthAdjust="spacingAndGlyphs">Replicate community (four per treatment)</text>
<text x="-0.25" y="10.9" font-size="21" text-anchor="start" fill="#000" font-weight="bold" stroke="#000" stroke-width="0.45">a</text>
<text x="-0.4" y="351.1" font-size="21" text-anchor="start" fill="#000" font-weight="bold" stroke="#000" stroke-width="0.45">b</text>
<path d="M46.2 358.7V443.5" stroke="#C4C4C4" stroke-width="1.5" fill="none"/>
<path d="M42.1 365.18H46.2" stroke="#666" stroke-width="0.65" fill="none"/>
<text x="39.3" y="367.88" font-size="7.5" text-anchor="end" fill="#222">10</text>
<path d="M42.1 382.24H46.2" stroke="#666" stroke-width="0.65" fill="none"/>
<text x="39.3" y="384.94" font-size="7.5" text-anchor="end" fill="#222">5</text>
<path d="M42.1 399.3H46.2" stroke="#666" stroke-width="0.65" fill="none"/>
<text x="39.3" y="402" font-size="7.5" text-anchor="end" fill="#222">0</text>
<path d="M42.1 416.36H46.2" stroke="#666" stroke-width="0.65" fill="none"/>
<text x="39.3" y="419.06" font-size="7.5" text-anchor="end" fill="#222">−5</text>
<path d="M42.1 433.42H46.2" stroke="#666" stroke-width="0.65" fill="none"/>
<text x="39.3" y="436.12" font-size="7.5" text-anchor="end" fill="#222">−10</text>
<rect x="47.41" y="398.03" width="2.97" height="2.2" fill="#EE7A35"/><rect x="53.41" y="398.03" width="2.97" height="2.2" fill="#2443F2"/><rect x="62.41" y="398.03" width="2.97" height="2.2" fill="#3FF024"/><rect x="68.42" y="398.03" width="2.97" height="2.2" fill="#F5106F"/><rect x="107.42" y="398.03" width="2.97" height="2.2" fill="#174F86"/><path d="M48.9 396.35V404.64M47.6 396.35H50.2M47.6 404.64H50.2" stroke="#000" stroke-width="0.85" fill="none"/><ellipse cx="48.9" cy="398.97" rx="1.5" ry="1" fill="#111"/><circle cx="48.9" cy="404.01" r="0.8" fill="#777" fill-opacity="0.85"/><ellipse cx="51.9" cy="399.02" rx="1.5" ry="1" fill="#111"/><path d="M54.9 397.24V402.09M53.6 397.24H56.2M53.6 402.09H56.2" stroke="#000" stroke-width="0.85" fill="none"/><ellipse cx="54.9" cy="398.82" rx="1.5" ry="1.3" fill="#111"/><circle cx="54.9" cy="402.73" r="0.8" fill="#777" fill-opacity="0.85"/><ellipse cx="57.9" cy="398.84" rx="1.5" ry="1.3" fill="#111"/><path d="M60.9 397.76V400.56M59.6 397.76H62.2M59.6 400.56H62.2" stroke="#000" stroke-width="0.85" fill="none"/><ellipse cx="60.9" cy="398.81" rx="1.5" ry="1.3" fill="#111"/><path d="M63.9 396.99V401.07M62.6 396.99H65.2M62.6 401.07H65.2" stroke="#000" stroke-width="0.85" fill="none"/><ellipse cx="63.9" cy="398.91" rx="1.5" ry="1" fill="#111"/><path d="M66.9 397.24V401.45M65.6 397.24H68.2M65.6 401.45H68.2" stroke="#000" stroke-width="0.85" fill="none"/><ellipse cx="66.9" cy="399.04" rx="1.5" ry="1" fill="#111"/><path d="M69.9 396.35V404.01M68.6 396.35H71.2M68.6 404.01H71.2" stroke="#000" stroke-width="0.85" fill="none"/><ellipse cx="69.9" cy="398.92" rx="1.5" ry="1.3" fill="#111"/><circle cx="69.9" cy="404.64" r="0.8" fill="#777" fill-opacity="0.85"/><path d="M72.9 397.76V400.82M71.6 397.76H74.2M71.6 400.82H74.2" stroke="#000" stroke-width="0.85" fill="none"/><ellipse cx="72.9" cy="399.03" rx="1.5" ry="1.3" fill="#111"/><ellipse cx="75.9" cy="398.85" rx="1.5" ry="1" fill="#111"/><ellipse cx="78.9" cy="399.16" rx="1.5" ry="1.3" fill="#111"/><ellipse cx="81.9" cy="399.35" rx="1.5" ry="1.3" fill="#111"/><path d="M84.9 396.35V402.09M83.6 396.35H86.2M83.6 402.09H86.2" stroke="#000" stroke-width="0.85" fill="none"/><ellipse cx="84.9" cy="399.13" rx="1.5" ry="1" fill="#111"/><circle cx="84.9" cy="402.35" r="0.8" fill="#777" fill-opacity="0.85"/><path d="M87.9 397.76V400.56M86.6 397.76H89.2M86.6 400.56H89.2" stroke="#000" stroke-width="0.85" fill="none"/><ellipse cx="87.9" cy="399.37" rx="1.5" ry="1" fill="#111"/><ellipse cx="90.9" cy="399.11" rx="1.5" ry="1" fill="#111"/><ellipse cx="93.9" cy="398.95" rx="1.5" ry="1" fill="#111"/><ellipse cx="96.9" cy="399.1" rx="1.5" ry="1.3" fill="#111"/><path d="M99.9 397.24V401.45M98.6 397.24H101.2M98.6 401.45H101.2" stroke="#000" stroke-width="0.85" fill="none"/><ellipse cx="99.9" cy="398.97" rx="1.5" ry="1.3" fill="#111"/><path d="M102.9 397.76V400.56M101.6 397.76H104.2M101.6 400.56H104.2" stroke="#000" stroke-width="0.85" fill="none"/><ellipse cx="102.9" cy="398.89" rx="1.5" ry="1.3" fill="#111"/><ellipse cx="105.9" cy="399.12" rx="1.5" ry="1" fill="#111"/><path d="M108.9 396.99V401.45M107.6 396.99H110.2M107.6 401.45H110.2" stroke="#000" stroke-width="0.85" fill="none"/><ellipse cx="108.9" cy="399" rx="1.5" ry="1.3" fill="#111"/><path d="M111.9 397.88V400.31M110.6 397.88H113.2M110.6 400.31H113.2" stroke="#000" stroke-width="0.85" fill="none"/><ellipse cx="111.9" cy="399.21" rx="1.5" ry="1.3" fill="#111"/><ellipse cx="114.9" cy="398.82" rx="1.5" ry="1" fill="#111"/>
<rect x="120.96" y="399.03" width="2.97" height="7.85" fill="#EE7A35"/><rect x="126.96" y="399.03" width="2.97" height="10.24" fill="#2443F2"/><rect x="132.96" y="399.03" width="2.97" height="19.11" fill="#FF2FD3"/><rect x="135.96" y="399.03" width="2.97" height="14.67" fill="#3FF024"/><rect x="138.96" y="399.03" width="2.97" height="5.8" fill="#6E4B69"/><rect x="141.96" y="399.03" width="2.97" height="17.06" fill="#F5106F"/><rect x="144.96" y="399.03" width="2.97" height="14.67" fill="#6C8F3C"/><rect x="150.96" y="399.03" width="2.97" height="1.71" fill="#8200AA"/><rect x="156.96" y="394.59" width="2.97" height="4.44" fill="#FFD6BF"/><rect x="162.96" y="399.03" width="2.97" height="0.68" fill="#7F4A16"/><rect x="165.96" y="399.03" width="2.97" height="40.26" fill="#BEDEE6"/><rect x="168.96" y="399.03" width="2.97" height="17.06" fill="#C6EE2E"/><rect x="171.96" y="377.19" width="2.97" height="21.84" fill="#45EF9C"/><rect x="174.96" y="399.03" width="2.97" height="2.39" fill="#E41CF4"/><rect x="177.96" y="396.3" width="2.97" height="2.73" fill="#F4553B"/><rect x="180.96" y="390.5" width="2.97" height="8.53" fill="#174F86"/><rect x="183.96" y="391.86" width="2.97" height="7.17" fill="#1F9176"/><rect x="186.96" y="379.24" width="2.97" height="19.79" fill="#B8314E"/><ellipse cx="122.45" cy="406.88" rx="1.45" ry="1.05" fill="#111"/><ellipse cx="125.45" cy="399.03" rx="1.45" ry="1.05" fill="#111"/><ellipse cx="128.45" cy="409.27" rx="1.45" ry="1.05" fill="#111"/><ellipse cx="131.45" cy="399.03" rx="1.45" ry="1.05" fill="#111"/><ellipse cx="134.45" cy="418.14" rx="1.45" ry="1.05" fill="#111"/><ellipse cx="137.45" cy="413.7" rx="1.45" ry="1.05" fill="#111"/><ellipse cx="140.45" cy="404.83" rx="1.45" ry="1.05" fill="#111"/><ellipse cx="143.45" cy="416.09" rx="1.45" ry="1.05" fill="#111"/><path d="M146.45 412.3V419.69M145 412.3H147.9M145 419.69H147.9" stroke="#000" stroke-width="0.9" fill="none"/><ellipse cx="146.45" cy="413.7" rx="0.9" ry="0.8" fill="#111"/><ellipse cx="146.45" cy="405.92" rx="1.0" ry="0.85" fill="#111"/><ellipse cx="149.45" cy="399.03" rx="1.45" ry="1.05" fill="#111"/><path d="M152.45 396.99V405.28M151 396.99H153.9M151 405.28H153.9" stroke="#000" stroke-width="0.9" fill="none"/><ellipse cx="152.45" cy="400.74" rx="0.9" ry="0.8" fill="#111"/><circle cx="152.45" cy="389.08" r="0.85" fill="#777" fill-opacity="0.85"/><circle cx="152.45" cy="407.83" r="0.85" fill="#777" fill-opacity="0.85"/><ellipse cx="155.45" cy="399.03" rx="1.45" ry="1.05" fill="#111"/><ellipse cx="158.45" cy="394.59" rx="1.45" ry="1.05" fill="#111"/><ellipse cx="161.45" cy="399.03" rx="1.45" ry="1.05" fill="#111"/><ellipse cx="161.45" cy="399.54" rx="1.0" ry="0.85" fill="#111"/><path d="M164.45 396.99V402.09M163 396.99H165.9M163 402.09H165.9" stroke="#000" stroke-width="0.9" fill="none"/><ellipse cx="164.45" cy="399.71" rx="0.9" ry="0.8" fill="#111"/><ellipse cx="164.45" cy="397.63" rx="1.0" ry="0.85" fill="#111"/><circle cx="164.45" cy="406.17" r="0.85" fill="#777" fill-opacity="0.85"/><ellipse cx="167.45" cy="439.29" rx="1.45" ry="1.05" fill="#111"/><ellipse cx="170.45" cy="416.09" rx="1.45" ry="1.05" fill="#111"/><ellipse cx="173.45" cy="377.19" rx="1.45" ry="1.05" fill="#111"/><ellipse cx="173.45" cy="379.13" rx="1.0" ry="0.85" fill="#111"/><ellipse cx="176.45" cy="401.42" rx="1.45" ry="1.05" fill="#111"/><ellipse cx="176.45" cy="403.37" rx="1.0" ry="0.85" fill="#111"/><ellipse cx="179.45" cy="396.3" rx="1.45" ry="1.05" fill="#111"/><ellipse cx="182.45" cy="390.5" rx="1.45" ry="1.05" fill="#111"/><ellipse cx="185.45" cy="391.86" rx="1.45" ry="1.05" fill="#111"/><path d="M188.45 375.31V382.96M187 375.31H189.9M187 382.96H189.9" stroke="#000" stroke-width="0.9" fill="none"/><ellipse cx="188.45" cy="379.24" rx="0.9" ry="0.8" fill="#111"/><circle cx="188.45" cy="369.18" r="0.85" fill="#777" fill-opacity="0.85"/>
<rect x="194.71" y="399.03" width="2.97" height="7.85" fill="#EE7A35"/><rect x="200.71" y="399.03" width="2.97" height="10.24" fill="#2443F2"/><rect x="206.71" y="399.03" width="2.97" height="13.31" fill="#FF2FD3"/><rect x="209.71" y="399.03" width="2.97" height="14.67" fill="#3FF024"/><rect x="212.71" y="387.43" width="2.97" height="11.6" fill="#6E4B69"/><rect x="215.71" y="399.03" width="2.97" height="17.06" fill="#F5106F"/><rect x="218.71" y="399.03" width="2.97" height="19.79" fill="#6C8F3C"/><rect x="224.71" y="399.03" width="2.97" height="13.31" fill="#8200AA"/><rect x="230.71" y="399.03" width="2.97" height="18.77" fill="#FFD6BF"/><rect x="233.71" y="399.03" width="2.97" height="23.54" fill="#EFB2F7"/><rect x="236.71" y="399.03" width="2.97" height="31.73" fill="#7F4A16"/><rect x="239.71" y="399.03" width="2.97" height="40.26" fill="#BEDEE6"/><rect x="242.71" y="399.03" width="2.97" height="17.06" fill="#C6EE2E"/><rect x="245.71" y="393.23" width="2.97" height="5.8" fill="#45EF9C"/><rect x="248.71" y="399.03" width="2.97" height="9.55" fill="#E41CF4"/><rect x="251.71" y="399.03" width="2.97" height="34.12" fill="#F4553B"/><rect x="254.71" y="389.82" width="2.97" height="9.21" fill="#174F86"/><rect x="257.71" y="389.82" width="2.97" height="9.21" fill="#1F9176"/><rect x="260.71" y="363.55" width="2.97" height="35.48" fill="#B8314E"/><ellipse cx="196.2" cy="406.88" rx="1.45" ry="1.05" fill="#111"/><ellipse cx="199.2" cy="399.03" rx="1.45" ry="1.05" fill="#111"/><ellipse cx="202.2" cy="409.27" rx="1.45" ry="1.05" fill="#111"/><ellipse cx="205.2" cy="399.03" rx="1.45" ry="1.05" fill="#111"/><path d="M208.2 407.19V418.04M206.75 407.19H209.65M206.75 418.04H209.65" stroke="#000" stroke-width="0.9" fill="none"/><ellipse cx="208.2" cy="412.34" rx="0.9" ry="0.8" fill="#111"/><ellipse cx="208.2" cy="407.45" rx="1.0" ry="0.85" fill="#111"/><ellipse cx="208.2" cy="418.04" rx="1.0" ry="0.85" fill="#111"/><circle cx="208.2" cy="396.99" r="0.85" fill="#777" fill-opacity="0.85"/><ellipse cx="211.2" cy="413.7" rx="1.45" ry="1.05" fill="#111"/><ellipse cx="214.2" cy="387.43" rx="1.45" ry="1.05" fill="#111"/><ellipse cx="214.2" cy="389.59" rx="1.0" ry="0.85" fill="#111"/><circle cx="214.2" cy="385.51" r="0.85" fill="#777" fill-opacity="0.85"/><ellipse cx="217.2" cy="416.09" rx="1.45" ry="1.05" fill="#111"/><ellipse cx="220.2" cy="418.82" rx="1.45" ry="1.05" fill="#111"/><ellipse cx="223.2" cy="399.03" rx="1.45" ry="1.05" fill="#111"/><path d="M226.2 403.37V421.86M224.75 403.37H227.65M224.75 421.86H227.65" stroke="#000" stroke-width="0.9" fill="none"/><ellipse cx="226.2" cy="412.34" rx="0.9" ry="0.8" fill="#111"/><ellipse cx="226.2" cy="403.37" rx="1.0" ry="0.85" fill="#111"/><ellipse cx="226.2" cy="421.86" rx="1.0" ry="0.85" fill="#111"/><circle cx="226.2" cy="385.77" r="0.85" fill="#777" fill-opacity="0.85"/><ellipse cx="229.2" cy="399.03" rx="1.45" ry="1.05" fill="#111"/><ellipse cx="232.2" cy="417.8" rx="1.45" ry="1.05" fill="#111"/><ellipse cx="235.2" cy="422.57" rx="1.45" ry="1.05" fill="#111"/><ellipse cx="238.2" cy="430.76" rx="1.45" ry="1.05" fill="#111"/><ellipse cx="241.2" cy="439.29" rx="1.45" ry="1.05" fill="#111"/><ellipse cx="244.2" cy="416.09" rx="1.45" ry="1.05" fill="#111"/><path d="M247.2 384.23V408.47M245.75 384.23H248.65M245.75 408.47H248.65" stroke="#000" stroke-width="0.9" fill="none"/><ellipse cx="247.2" cy="393.23" rx="0.9" ry="0.8" fill="#111"/><ellipse cx="247.2" cy="408.47" rx="1.0" ry="0.85" fill="#111"/><circle cx="247.2" cy="376.33" r="0.85" fill="#777" fill-opacity="0.85"/><circle cx="247.2" cy="378.49" r="0.85" fill="#777" fill-opacity="0.85"/><path d="M250.2 400.18V418.04M248.75 400.18H251.65M248.75 418.04H251.65" stroke="#000" stroke-width="0.9" fill="none"/><ellipse cx="250.2" cy="408.58" rx="0.9" ry="0.8" fill="#111"/><circle cx="250.2" cy="424.41" r="0.85" fill="#777" fill-opacity="0.85"/><circle cx="250.2" cy="394.18" r="0.85" fill="#777" fill-opacity="0.85"/><ellipse cx="253.2" cy="433.15" rx="1.45" ry="1.05" fill="#111"/><ellipse cx="256.2" cy="389.82" rx="1.45" ry="1.05" fill="#111"/><ellipse cx="259.2" cy="389.82" rx="1.45" ry="1.05" fill="#111"/><ellipse cx="259.2" cy="386.79" rx="1.0" ry="0.85" fill="#111"/><ellipse cx="262.2" cy="363.55" rx="1.45" ry="1.05" fill="#111"/>
<rect x="268.56" y="398.03" width="2.97" height="2.2" fill="#EE7A35"/><rect x="274.56" y="398.03" width="2.97" height="2.2" fill="#2443F2"/><rect x="283.56" y="398.03" width="2.97" height="2.2" fill="#3FF024"/><rect x="289.56" y="398.03" width="2.97" height="2.2" fill="#F5106F"/><rect x="328.56" y="398.03" width="2.97" height="2.2" fill="#174F86"/><path d="M270.05 396.35V401.45M268.75 396.35H271.35M268.75 401.45H271.35" stroke="#000" stroke-width="0.85" fill="none"/><ellipse cx="270.05" cy="399.08" rx="1.5" ry="1.3" fill="#111"/><ellipse cx="273.05" cy="399.04" rx="1.5" ry="1.15" fill="#111"/><path d="M276.05 396.99V401.07M274.75 396.99H277.35M274.75 401.07H277.35" stroke="#000" stroke-width="0.85" fill="none"/><ellipse cx="276.05" cy="399.06" rx="1.5" ry="1.15" fill="#111"/><ellipse cx="279.05" cy="399" rx="1.5" ry="1" fill="#111"/><path d="M282.05 397.24V401.07M280.75 397.24H283.35M280.75 401.07H283.35" stroke="#000" stroke-width="0.85" fill="none"/><ellipse cx="282.05" cy="399.26" rx="1.5" ry="1.3" fill="#111"/><path d="M285.05 395.71V403.37M283.75 395.71H286.35M283.75 403.37H286.35" stroke="#000" stroke-width="0.85" fill="none"/><ellipse cx="285.05" cy="399.25" rx="1.5" ry="1" fill="#111"/><circle cx="285.05" cy="405.66" r="0.8" fill="#777" fill-opacity="0.85"/><path d="M288.05 397.5V400.82M286.75 397.5H289.35M286.75 400.82H289.35" stroke="#000" stroke-width="0.85" fill="none"/><ellipse cx="288.05" cy="399.12" rx="1.5" ry="1.3" fill="#111"/><path d="M291.05 396.35V402.73M289.75 396.35H292.35M289.75 402.73H292.35" stroke="#000" stroke-width="0.85" fill="none"/><ellipse cx="291.05" cy="399.08" rx="1.5" ry="1.15" fill="#111"/><circle cx="291.05" cy="404.39" r="0.8" fill="#777" fill-opacity="0.85"/><path d="M294.05 397.76V400.56M292.75 397.76H295.35M292.75 400.56H295.35" stroke="#000" stroke-width="0.85" fill="none"/><ellipse cx="294.05" cy="399.22" rx="1.5" ry="1.15" fill="#111"/><ellipse cx="297.05" cy="399.15" rx="1.5" ry="1" fill="#111"/><ellipse cx="300.05" cy="398.85" rx="1.5" ry="1.15" fill="#111"/><ellipse cx="303.05" cy="398.88" rx="1.5" ry="1.15" fill="#111"/><path d="M306.05 396.99V400.82M304.75 396.99H307.35M304.75 400.82H307.35" stroke="#000" stroke-width="0.85" fill="none"/><ellipse cx="306.05" cy="398.87" rx="1.5" ry="1.15" fill="#111"/><path d="M309.05 397.76V400.56M307.75 397.76H310.35M307.75 400.56H310.35" stroke="#000" stroke-width="0.85" fill="none"/><ellipse cx="309.05" cy="399.03" rx="1.5" ry="1.3" fill="#111"/><ellipse cx="312.05" cy="398.83" rx="1.5" ry="1.3" fill="#111"/><ellipse cx="315.05" cy="399.12" rx="1.5" ry="1.15" fill="#111"/><ellipse cx="318.05" cy="398.98" rx="1.5" ry="1.15" fill="#111"/><path d="M321.05 397.63V401.45M319.75 397.63H322.35M319.75 401.45H322.35" stroke="#000" stroke-width="0.85" fill="none"/><ellipse cx="321.05" cy="399.14" rx="1.5" ry="1.3" fill="#111"/><circle cx="321.05" cy="402.09" r="0.8" fill="#777" fill-opacity="0.85"/><path d="M324.05 397.76V400.56M322.75 397.76H325.35M322.75 400.56H325.35" stroke="#000" stroke-width="0.85" fill="none"/><ellipse cx="324.05" cy="399.26" rx="1.5" ry="1" fill="#111"/><ellipse cx="327.05" cy="399.28" rx="1.5" ry="1.15" fill="#111"/><path d="M330.05 396.99V402.73M328.75 396.99H331.35M328.75 402.73H331.35" stroke="#000" stroke-width="0.85" fill="none"/><ellipse cx="330.05" cy="399.06" rx="1.5" ry="1.3" fill="#111"/><circle cx="330.05" cy="407.83" r="0.8" fill="#777" fill-opacity="0.85"/><path d="M333.05 397.76V400.56M331.75 397.76H334.35M331.75 400.56H334.35" stroke="#000" stroke-width="0.85" fill="none"/><ellipse cx="333.05" cy="398.82" rx="1.5" ry="1.3" fill="#111"/><ellipse cx="336.05" cy="399.2" rx="1.5" ry="1.3" fill="#111"/>
<rect x="342.31" y="399.03" width="2.97" height="13.31" fill="#EE7A35"/><rect x="348.31" y="399.03" width="2.97" height="9.21" fill="#2443F2"/><rect x="354.31" y="399.03" width="2.97" height="19.11" fill="#FF2FD3"/><rect x="357.31" y="399.03" width="2.97" height="3.75" fill="#3FF024"/><rect x="360.31" y="394.59" width="2.97" height="4.44" fill="#6E4B69"/><rect x="363.31" y="399.03" width="2.97" height="4.44" fill="#F5106F"/><rect x="366.31" y="399.03" width="2.97" height="17.4" fill="#6C8F3C"/><rect x="372.31" y="399.03" width="2.97" height="20.47" fill="#8200AA"/><rect x="378.31" y="398.01" width="2.97" height="1.02" fill="#FFD6BF"/><rect x="381.31" y="399.03" width="2.97" height="1.02" fill="#EFB2F7"/><rect x="384.31" y="399.03" width="2.97" height="1.02" fill="#7F4A16"/><rect x="390.31" y="399.03" width="2.97" height="14.67" fill="#C6EE2E"/><rect x="393.31" y="386.06" width="2.97" height="12.97" fill="#45EF9C"/><rect x="396.31" y="399.03" width="2.97" height="1.02" fill="#E41CF4"/><rect x="402.31" y="398.01" width="2.97" height="1.02" fill="#174F86"/><rect x="405.31" y="399.03" width="2.97" height="5.12" fill="#1F9176"/><rect x="408.31" y="386.75" width="2.97" height="12.28" fill="#B8314E"/><ellipse cx="343.8" cy="412.34" rx="1.45" ry="1.05" fill="#111"/><ellipse cx="346.8" cy="399.03" rx="1.45" ry="1.05" fill="#111"/><ellipse cx="349.8" cy="408.24" rx="1.45" ry="1.05" fill="#111"/><ellipse cx="352.8" cy="399.03" rx="1.45" ry="1.05" fill="#111"/><ellipse cx="355.8" cy="418.14" rx="1.45" ry="1.05" fill="#111"/><path d="M358.8 400.82V405.28M357.35 400.82H360.25M357.35 405.28H360.25" stroke="#000" stroke-width="0.9" fill="none"/><ellipse cx="358.8" cy="402.78" rx="0.9" ry="0.8" fill="#111"/><circle cx="358.8" cy="411.66" r="0.85" fill="#777" fill-opacity="0.85"/><path d="M361.8 393.42V396.99M360.35 393.42H363.25M360.35 396.99H363.25" stroke="#000" stroke-width="0.9" fill="none"/><ellipse cx="361.8" cy="394.59" rx="0.9" ry="0.8" fill="#111"/><circle cx="361.8" cy="391.25" r="0.85" fill="#777" fill-opacity="0.85"/><path d="M364.8 400.82V405.28M363.35 400.82H366.25M363.35 405.28H366.25" stroke="#000" stroke-width="0.9" fill="none"/><ellipse cx="364.8" cy="403.47" rx="0.9" ry="0.8" fill="#111"/><circle cx="364.8" cy="411.02" r="0.85" fill="#777" fill-opacity="0.85"/><path d="M367.8 412.3V420.59M366.35 412.3H369.25M366.35 420.59H369.25" stroke="#000" stroke-width="0.9" fill="none"/><ellipse cx="367.8" cy="416.43" rx="0.9" ry="0.8" fill="#111"/><circle cx="367.8" cy="404.64" r="0.85" fill="#777" fill-opacity="0.85"/><ellipse cx="370.8" cy="399.03" rx="1.45" ry="1.05" fill="#111"/><path d="M373.8 412.3V425.69M372.35 412.3H375.25M372.35 425.69H375.25" stroke="#000" stroke-width="0.9" fill="none"/><ellipse cx="373.8" cy="419.5" rx="0.9" ry="0.8" fill="#111"/><circle cx="373.8" cy="429.9" r="0.85" fill="#777" fill-opacity="0.85"/><ellipse cx="376.8" cy="399.03" rx="1.45" ry="1.05" fill="#111"/><path d="M379.8 396.73V399.8M378.35 396.73H381.25M378.35 399.8H381.25" stroke="#000" stroke-width="0.9" fill="none"/><ellipse cx="379.8" cy="398.01" rx="0.9" ry="0.8" fill="#111"/><circle cx="379.8" cy="393.8" r="0.85" fill="#777" fill-opacity="0.85"/><ellipse cx="382.8" cy="400.05" rx="1.45" ry="1.05" fill="#111"/><ellipse cx="382.8" cy="401.45" rx="1.0" ry="0.85" fill="#111"/><ellipse cx="385.8" cy="400.05" rx="1.45" ry="1.05" fill="#111"/><ellipse cx="385.8" cy="400.56" rx="1.0" ry="0.85" fill="#111"/><ellipse cx="388.8" cy="399.03" rx="1.45" ry="1.05" fill="#111"/><path d="M391.8 412.3V416.38M390.35 412.3H393.25M390.35 416.38H393.25" stroke="#000" stroke-width="0.9" fill="none"/><ellipse cx="391.8" cy="413.7" rx="0.9" ry="0.8" fill="#111"/><circle cx="391.8" cy="407.83" r="0.85" fill="#777" fill-opacity="0.85"/><path d="M394.8 384.23V388.7M393.35 384.23H396.25M393.35 388.7H396.25" stroke="#000" stroke-width="0.9" fill="none"/><ellipse cx="394.8" cy="386.06" rx="0.9" ry="0.8" fill="#111"/><circle cx="394.8" cy="380.41" r="0.85" fill="#777" fill-opacity="0.85"/><ellipse cx="397.8" cy="400.05" rx="1.45" ry="1.05" fill="#111"/><ellipse cx="397.8" cy="400.56" rx="1.0" ry="0.85" fill="#111"/><ellipse cx="400.8" cy="399.03" rx="1.45" ry="1.05" fill="#111"/><path d="M403.8 395.97V399.54M402.35 395.97H405.25M402.35 399.54H405.25" stroke="#000" stroke-width="0.9" fill="none"/><ellipse cx="403.8" cy="398.01" rx="0.9" ry="0.8" fill="#111"/><path d="M406.8 396.99V409.49M405.35 396.99H408.25M405.35 409.49H408.25" stroke="#000" stroke-width="0.9" fill="none"/><ellipse cx="406.8" cy="404.15" rx="0.9" ry="0.8" fill="#111"/><circle cx="406.8" cy="420.97" r="0.85" fill="#777" fill-opacity="0.85"/><path d="M409.8 378.49V398.27M408.35 378.49H411.25M408.35 398.27H411.25" stroke="#000" stroke-width="0.9" fill="none"/><ellipse cx="409.8" cy="386.75" rx="0.9" ry="0.8" fill="#111"/><ellipse cx="409.8" cy="395.08" rx="1.0" ry="0.85" fill="#111"/><circle cx="409.8" cy="362.3" r="0.85" fill="#777" fill-opacity="0.85"/>
<rect x="416.17" y="399.03" width="2.97" height="12.97" fill="#EE7A35"/><rect x="422.17" y="399.03" width="2.97" height="9.21" fill="#2443F2"/><rect x="428.17" y="399.03" width="2.97" height="19.11" fill="#FF2FD3"/><rect x="431.17" y="396.98" width="2.97" height="2.05" fill="#3FF024"/><rect x="434.17" y="396.98" width="2.97" height="2.05" fill="#6E4B69"/><rect x="437.17" y="396.98" width="2.97" height="2.05" fill="#F5106F"/><rect x="440.17" y="399.03" width="2.97" height="21.15" fill="#6C8F3C"/><rect x="446.17" y="399.03" width="2.97" height="31.05" fill="#8200AA"/><rect x="452.17" y="399.03" width="2.97" height="18.77" fill="#FFD6BF"/><rect x="455.17" y="399.03" width="2.97" height="26.27" fill="#EFB2F7"/><rect x="458.17" y="399.03" width="2.97" height="31.05" fill="#7F4A16"/><rect x="461.17" y="398.35" width="2.97" height="0.68" fill="#BEDEE6"/><rect x="464.17" y="399.03" width="2.97" height="8.87" fill="#C6EE2E"/><rect x="467.17" y="399.03" width="2.97" height="11.6" fill="#45EF9C"/><rect x="470.17" y="397.32" width="2.97" height="1.71" fill="#E41CF4"/><rect x="473.17" y="399.03" width="2.97" height="15.7" fill="#F4553B"/><rect x="476.17" y="397.67" width="2.97" height="1.36" fill="#174F86"/><rect x="479.17" y="397.32" width="2.97" height="1.71" fill="#1F9176"/><rect x="482.17" y="364.91" width="2.97" height="34.12" fill="#B8314E"/><ellipse cx="417.65" cy="412" rx="1.45" ry="1.05" fill="#111"/><ellipse cx="420.65" cy="399.03" rx="1.45" ry="1.05" fill="#111"/><ellipse cx="423.65" cy="408.24" rx="1.45" ry="1.05" fill="#111"/><ellipse cx="426.65" cy="399.03" rx="1.45" ry="1.05" fill="#111"/><ellipse cx="429.65" cy="418.14" rx="1.45" ry="1.05" fill="#111"/><ellipse cx="432.65" cy="396.98" rx="1.45" ry="1.05" fill="#111"/><ellipse cx="432.65" cy="393.42" rx="1.0" ry="0.85" fill="#111"/><ellipse cx="432.65" cy="395.46" rx="1.0" ry="0.85" fill="#111"/><ellipse cx="435.65" cy="396.98" rx="1.45" ry="1.05" fill="#111"/><ellipse cx="435.65" cy="394.69" rx="1.0" ry="0.85" fill="#111"/><ellipse cx="435.65" cy="396.99" rx="1.0" ry="0.85" fill="#111"/><ellipse cx="438.65" cy="396.98" rx="1.45" ry="1.05" fill="#111"/><ellipse cx="438.65" cy="395.71" rx="1.0" ry="0.85" fill="#111"/><circle cx="438.65" cy="401.84" r="0.85" fill="#777" fill-opacity="0.85"/><ellipse cx="441.65" cy="420.18" rx="1.45" ry="1.05" fill="#111"/><ellipse cx="444.65" cy="399.03" rx="1.45" ry="1.05" fill="#111"/><ellipse cx="447.65" cy="430.08" rx="1.45" ry="1.05" fill="#111"/><ellipse cx="450.65" cy="399.03" rx="1.45" ry="1.05" fill="#111"/><ellipse cx="453.65" cy="417.8" rx="1.45" ry="1.05" fill="#111"/><ellipse cx="456.65" cy="425.3" rx="1.45" ry="1.05" fill="#111"/><ellipse cx="459.65" cy="430.08" rx="1.45" ry="1.05" fill="#111"/><ellipse cx="462.65" cy="398.35" rx="1.45" ry="1.05" fill="#111"/><path d="M465.65 401.45V412.93M464.2 401.45H467.1M464.2 412.93H467.1" stroke="#000" stroke-width="0.9" fill="none"/><ellipse cx="465.65" cy="407.9" rx="0.9" ry="0.8" fill="#111"/><circle cx="465.65" cy="416.76" r="0.85" fill="#777" fill-opacity="0.85"/><circle cx="465.65" cy="395.71" r="0.85" fill="#777" fill-opacity="0.85"/><ellipse cx="468.65" cy="410.63" rx="1.45" ry="1.05" fill="#111"/><ellipse cx="471.65" cy="397.32" rx="1.45" ry="1.05" fill="#111"/><ellipse cx="471.65" cy="396.35" rx="1.0" ry="0.85" fill="#111"/><path d="M474.65 406.56V423.39M473.2 406.56H476.1M473.2 423.39H476.1" stroke="#000" stroke-width="0.9" fill="none"/><ellipse cx="474.65" cy="414.73" rx="0.9" ry="0.8" fill="#111"/><ellipse cx="474.65" cy="401.45" rx="1.0" ry="0.85" fill="#111"/><circle cx="474.65" cy="433.72" r="0.85" fill="#777" fill-opacity="0.85"/><ellipse cx="477.65" cy="397.67" rx="1.45" ry="1.05" fill="#111"/><ellipse cx="480.65" cy="397.32" rx="1.45" ry="1.05" fill="#111"/><ellipse cx="480.65" cy="396.35" rx="1.0" ry="0.85" fill="#111"/><ellipse cx="483.65" cy="364.91" rx="1.45" ry="1.05" fill="#111"/><ellipse cx="483.65" cy="368.93" rx="1.0" ry="0.85" fill="#111"/>
<rect x="119.35" y="363" width="71.7" height="76.8" fill="#ff0000" fill-opacity="0.095"/>
<rect x="193.1" y="363" width="71.7" height="76.8" fill="#ff0000" fill-opacity="0.235"/>
<rect x="340.7" y="363" width="71.7" height="76.8" fill="#ff0000" fill-opacity="0.095"/>
<rect x="414.55" y="363" width="71.7" height="76.8" fill="#ff0000" fill-opacity="0.235"/>
<path d="M46.2 445.6V530.4" stroke="#8E8E8E" stroke-width="1.5" fill="none"/>
<path d="M42.1 452.13H46.2" stroke="#666" stroke-width="0.65" fill="none"/>
<text x="39.3" y="454.83" font-size="7.5" text-anchor="end" fill="#222">10</text>
<path d="M42.1 469.19H46.2" stroke="#666" stroke-width="0.65" fill="none"/>
<text x="39.3" y="471.89" font-size="7.5" text-anchor="end" fill="#222">5</text>
<path d="M42.1 486.25H46.2" stroke="#666" stroke-width="0.65" fill="none"/>
<text x="39.3" y="488.95" font-size="7.5" text-anchor="end" fill="#222">0</text>
<path d="M42.1 503.31H46.2" stroke="#666" stroke-width="0.65" fill="none"/>
<text x="39.3" y="506.01" font-size="7.5" text-anchor="end" fill="#222">−5</text>
<path d="M42.1 520.37H46.2" stroke="#666" stroke-width="0.65" fill="none"/>
<text x="39.3" y="523.07" font-size="7.5" text-anchor="end" fill="#222">−10</text>
<rect x="47.41" y="485.4" width="2.97" height="7.85" fill="#EE7A35"/><rect x="53.41" y="485.4" width="2.97" height="2.39" fill="#2443F2"/><rect x="59.41" y="485.4" width="2.97" height="19.11" fill="#FF2FD3"/><rect x="62.41" y="485.4" width="2.97" height="5.12" fill="#3FF024"/><rect x="65.42" y="475.16" width="2.97" height="10.24" fill="#6E4B69"/><rect x="68.42" y="485.4" width="2.97" height="8.87" fill="#F5106F"/><rect x="71.42" y="485.4" width="2.97" height="20.13" fill="#6C8F3C"/><rect x="77.42" y="478.92" width="2.97" height="6.48" fill="#8200AA"/><rect x="83.42" y="485.4" width="2.97" height="1.71" fill="#FFD6BF"/><rect x="86.42" y="481.65" width="2.97" height="3.75" fill="#EFB2F7"/><rect x="89.42" y="485.4" width="2.97" height="3.07" fill="#7F4A16"/><rect x="92.42" y="485.4" width="2.97" height="6.82" fill="#BEDEE6"/><rect x="95.42" y="485.4" width="2.97" height="11.26" fill="#C6EE2E"/><rect x="98.42" y="473.12" width="2.97" height="12.28" fill="#45EF9C"/><rect x="101.42" y="483.69" width="2.97" height="1.71" fill="#E41CF4"/><rect x="104.42" y="483.35" width="2.97" height="2.05" fill="#F4553B"/><rect x="107.42" y="482.67" width="2.97" height="2.73" fill="#174F86"/><rect x="110.42" y="483.69" width="2.97" height="1.71" fill="#1F9176"/><rect x="113.42" y="473.12" width="2.97" height="12.28" fill="#B8314E"/><ellipse cx="48.9" cy="493.25" rx="1.45" ry="1.05" fill="#111"/><ellipse cx="51.9" cy="485.4" rx="1.45" ry="1.05" fill="#111"/><path d="M54.9 483.99V490.37M53.45 483.99H56.35M53.45 490.37H56.35" stroke="#000" stroke-width="0.9" fill="none"/><ellipse cx="54.9" cy="487.79" rx="0.9" ry="0.8" fill="#111"/><circle cx="54.9" cy="496.11" r="0.85" fill="#777" fill-opacity="0.85"/><ellipse cx="57.9" cy="485.4" rx="1.45" ry="1.05" fill="#111"/><ellipse cx="60.9" cy="504.51" rx="1.45" ry="1.05" fill="#111"/><path d="M63.9 484.63V494.19M62.45 484.63H65.35M62.45 494.19H65.35" stroke="#000" stroke-width="0.9" fill="none"/><ellipse cx="63.9" cy="490.52" rx="0.9" ry="0.8" fill="#111"/><circle cx="63.9" cy="500.57" r="0.85" fill="#777" fill-opacity="0.85"/><ellipse cx="66.9" cy="475.16" rx="1.45" ry="1.05" fill="#111"/><ellipse cx="66.9" cy="474.42" rx="1.0" ry="0.85" fill="#111"/><path d="M69.9 491.01V498.66M68.45 491.01H71.35M68.45 498.66H71.35" stroke="#000" stroke-width="0.9" fill="none"/><ellipse cx="69.9" cy="494.27" rx="0.9" ry="0.8" fill="#111"/><circle cx="69.9" cy="503.12" r="0.85" fill="#777" fill-opacity="0.85"/><ellipse cx="72.9" cy="505.53" rx="1.45" ry="1.05" fill="#111"/><ellipse cx="75.9" cy="485.4" rx="1.45" ry="1.05" fill="#111"/><path d="M78.9 477.61V481.44M77.45 477.61H80.35M77.45 481.44H80.35" stroke="#000" stroke-width="0.9" fill="none"/><ellipse cx="78.9" cy="478.92" rx="0.9" ry="0.8" fill="#111"/><circle cx="78.9" cy="474.42" r="0.85" fill="#777" fill-opacity="0.85"/><ellipse cx="81.9" cy="485.4" rx="1.45" ry="1.05" fill="#111"/><ellipse cx="84.9" cy="487.11" rx="1.45" ry="1.05" fill="#111"/><ellipse cx="87.9" cy="481.65" rx="1.45" ry="1.05" fill="#111"/><ellipse cx="87.9" cy="479.91" rx="1.0" ry="0.85" fill="#111"/><ellipse cx="90.9" cy="488.47" rx="1.45" ry="1.05" fill="#111"/><circle cx="90.9" cy="491.64" r="0.85" fill="#777" fill-opacity="0.85"/><path d="M93.9 487.82V493.56M92.45 487.82H95.35M92.45 493.56H95.35" stroke="#000" stroke-width="0.9" fill="none"/><ellipse cx="93.9" cy="492.22" rx="0.9" ry="0.8" fill="#111"/><path d="M96.9 494.19V501.85M95.45 494.19H98.35M95.45 501.85H98.35" stroke="#000" stroke-width="0.9" fill="none"/><ellipse cx="96.9" cy="496.66" rx="0.9" ry="0.8" fill="#111"/><circle cx="96.9" cy="503.12" r="0.85" fill="#777" fill-opacity="0.85"/><path d="M99.9 471.23V475.7M98.45 471.23H101.35M98.45 475.7H101.35" stroke="#000" stroke-width="0.9" fill="none"/><ellipse cx="99.9" cy="473.12" rx="0.9" ry="0.8" fill="#111"/><circle cx="99.9" cy="468.05" r="0.85" fill="#777" fill-opacity="0.85"/><ellipse cx="102.9" cy="483.69" rx="1.45" ry="1.05" fill="#111"/><circle cx="102.9" cy="487.82" r="0.85" fill="#777" fill-opacity="0.85"/><ellipse cx="105.9" cy="483.35" rx="1.45" ry="1.05" fill="#111"/><path d="M108.9 480.16V485.27M107.45 480.16H110.35M107.45 485.27H110.35" stroke="#000" stroke-width="0.9" fill="none"/><ellipse cx="108.9" cy="482.67" rx="0.9" ry="0.8" fill="#111"/><circle cx="108.9" cy="491.39" r="0.85" fill="#777" fill-opacity="0.85"/><ellipse cx="111.9" cy="483.69" rx="1.45" ry="1.05" fill="#111"/><ellipse cx="114.9" cy="473.12" rx="1.45" ry="1.05" fill="#111"/><ellipse cx="114.9" cy="470.6" rx="1.0" ry="0.85" fill="#111"/>
<rect x="120.96" y="485.4" width="2.97" height="8.19" fill="#EE7A35"/><rect x="126.96" y="485.4" width="2.97" height="5.12" fill="#2443F2"/><rect x="132.96" y="485.4" width="2.97" height="19.45" fill="#FF2FD3"/><rect x="135.96" y="485.4" width="2.97" height="9.55" fill="#3FF024"/><rect x="138.96" y="475.51" width="2.97" height="9.89" fill="#6E4B69"/><rect x="141.96" y="485.4" width="2.97" height="12.28" fill="#F5106F"/><rect x="144.96" y="485.4" width="2.97" height="20.47" fill="#6C8F3C"/><rect x="150.96" y="480.62" width="2.97" height="4.78" fill="#8200AA"/><rect x="156.96" y="485.4" width="2.97" height="1.71" fill="#FFD6BF"/><rect x="159.96" y="481.99" width="2.97" height="3.41" fill="#EFB2F7"/><rect x="162.96" y="485.4" width="2.97" height="4.78" fill="#7F4A16"/><rect x="165.96" y="485.4" width="2.97" height="5.46" fill="#BEDEE6"/><rect x="168.96" y="485.4" width="2.97" height="12.97" fill="#C6EE2E"/><rect x="171.96" y="472.78" width="2.97" height="12.62" fill="#45EF9C"/><rect x="174.96" y="483.69" width="2.97" height="1.71" fill="#E41CF4"/><rect x="177.96" y="483.35" width="2.97" height="2.05" fill="#F4553B"/><rect x="180.96" y="481.31" width="2.97" height="4.09" fill="#174F86"/><rect x="183.96" y="484.38" width="2.97" height="1.02" fill="#1F9176"/><rect x="186.96" y="471.75" width="2.97" height="13.65" fill="#B8314E"/><ellipse cx="122.45" cy="493.59" rx="1.45" ry="1.05" fill="#111"/><ellipse cx="125.45" cy="485.4" rx="1.45" ry="1.05" fill="#111"/><path d="M128.45 488.45V492.92M127 488.45H129.9M127 492.92H129.9" stroke="#000" stroke-width="0.9" fill="none"/><ellipse cx="128.45" cy="490.52" rx="0.9" ry="0.8" fill="#111"/><circle cx="128.45" cy="496.11" r="0.85" fill="#777" fill-opacity="0.85"/><ellipse cx="131.45" cy="485.4" rx="1.45" ry="1.05" fill="#111"/><ellipse cx="134.45" cy="504.85" rx="1.45" ry="1.05" fill="#111"/><path d="M137.45 491.39V498.66M136 491.39H138.9M136 498.66H138.9" stroke="#000" stroke-width="0.9" fill="none"/><ellipse cx="137.45" cy="494.95" rx="0.9" ry="0.8" fill="#111"/><circle cx="137.45" cy="501.21" r="0.85" fill="#777" fill-opacity="0.85"/><ellipse cx="140.45" cy="475.51" rx="1.45" ry="1.05" fill="#111"/><ellipse cx="140.45" cy="473.79" rx="1.0" ry="0.85" fill="#111"/><path d="M143.45 494.19V503.12M142 494.19H144.9M142 503.12H144.9" stroke="#000" stroke-width="0.9" fill="none"/><ellipse cx="143.45" cy="497.68" rx="0.9" ry="0.8" fill="#111"/><circle cx="143.45" cy="487.82" r="0.85" fill="#777" fill-opacity="0.85"/><ellipse cx="146.45" cy="505.87" rx="1.45" ry="1.05" fill="#111"/><ellipse cx="149.45" cy="485.4" rx="1.45" ry="1.05" fill="#111"/><path d="M152.45 477.61V484.63M151 477.61H153.9M151 484.63H153.9" stroke="#000" stroke-width="0.9" fill="none"/><ellipse cx="152.45" cy="480.62" rx="0.9" ry="0.8" fill="#111"/><ellipse cx="152.45" cy="475.7" rx="1.0" ry="0.85" fill="#111"/><circle cx="152.45" cy="491.01" r="0.85" fill="#777" fill-opacity="0.85"/><ellipse cx="155.45" cy="485.4" rx="1.45" ry="1.05" fill="#111"/><ellipse cx="158.45" cy="487.11" rx="1.45" ry="1.05" fill="#111"/><path d="M161.45 480.42V483.35M160 480.42H162.9M160 483.35H162.9" stroke="#000" stroke-width="0.9" fill="none"/><ellipse cx="161.45" cy="481.99" rx="0.9" ry="0.8" fill="#111"/><ellipse cx="164.45" cy="490.18" rx="1.45" ry="1.05" fill="#111"/><path d="M167.45 485.27V493.56M166 485.27H168.9M166 493.56H168.9" stroke="#000" stroke-width="0.9" fill="none"/><ellipse cx="167.45" cy="490.86" rx="0.9" ry="0.8" fill="#111"/><path d="M170.45 494.19V503.12M169 494.19H171.9M169 503.12H171.9" stroke="#000" stroke-width="0.9" fill="none"/><ellipse cx="170.45" cy="498.37" rx="0.9" ry="0.8" fill="#111"/><circle cx="170.45" cy="500.57" r="0.85" fill="#777" fill-opacity="0.85"/><path d="M173.45 469.96V473.79M172 469.96H174.9M172 473.79H174.9" stroke="#000" stroke-width="0.9" fill="none"/><ellipse cx="173.45" cy="472.78" rx="0.9" ry="0.8" fill="#111"/><circle cx="173.45" cy="466.77" r="0.85" fill="#777" fill-opacity="0.85"/><ellipse cx="176.45" cy="483.69" rx="1.45" ry="1.05" fill="#111"/><ellipse cx="179.45" cy="483.35" rx="1.45" ry="1.05" fill="#111"/><path d="M182.45 478.25V483.99M181 478.25H183.9M181 483.99H183.9" stroke="#000" stroke-width="0.9" fill="none"/><ellipse cx="182.45" cy="481.31" rx="0.9" ry="0.8" fill="#111"/><circle cx="182.45" cy="488.84" r="0.85" fill="#777" fill-opacity="0.85"/><ellipse cx="185.45" cy="484.38" rx="1.45" ry="1.05" fill="#111"/><path d="M188.45 469.96V473.79M187 469.96H189.9M187 473.79H189.9" stroke="#000" stroke-width="0.9" fill="none"/><ellipse cx="188.45" cy="471.75" rx="0.9" ry="0.8" fill="#111"/><ellipse cx="188.45" cy="468.05" rx="1.0" ry="0.85" fill="#111"/>
<rect x="194.71" y="485.4" width="2.97" height="8.19" fill="#EE7A35"/><rect x="200.71" y="485.4" width="2.97" height="10.58" fill="#2443F2"/><rect x="206.71" y="485.4" width="2.97" height="19.45" fill="#FF2FD3"/><rect x="209.71" y="485.4" width="2.97" height="6.82" fill="#3FF024"/><rect x="212.71" y="475.51" width="2.97" height="9.89" fill="#6E4B69"/><rect x="215.71" y="485.4" width="2.97" height="11.94" fill="#F5106F"/><rect x="218.71" y="485.4" width="2.97" height="20.47" fill="#6C8F3C"/><rect x="224.71" y="479.26" width="2.97" height="6.14" fill="#8200AA"/><rect x="230.71" y="485.4" width="2.97" height="19.45" fill="#FFD6BF"/><rect x="233.71" y="485.4" width="2.97" height="24.57" fill="#EFB2F7"/><rect x="236.71" y="485.4" width="2.97" height="11.94" fill="#7F4A16"/><rect x="239.71" y="484.38" width="2.97" height="1.02" fill="#BEDEE6"/><rect x="242.71" y="485.4" width="2.97" height="17.4" fill="#C6EE2E"/><rect x="245.71" y="475.51" width="2.97" height="9.89" fill="#45EF9C"/><rect x="248.71" y="485.4" width="2.97" height="2.73" fill="#E41CF4"/><rect x="251.71" y="485.4" width="2.97" height="10.58" fill="#F4553B"/><rect x="254.71" y="481.99" width="2.97" height="3.41" fill="#174F86"/><rect x="257.71" y="483.69" width="2.97" height="1.71" fill="#1F9176"/><rect x="260.71" y="464.25" width="2.97" height="21.15" fill="#B8314E"/><ellipse cx="196.2" cy="493.59" rx="1.45" ry="1.05" fill="#111"/><ellipse cx="199.2" cy="485.4" rx="1.45" ry="1.05" fill="#111"/><ellipse cx="202.2" cy="495.98" rx="1.45" ry="1.05" fill="#111"/><ellipse cx="205.2" cy="485.4" rx="1.45" ry="1.05" fill="#111"/><ellipse cx="208.2" cy="504.85" rx="1.45" ry="1.05" fill="#111"/><ellipse cx="211.2" cy="492.22" rx="1.45" ry="1.05" fill="#111"/><ellipse cx="211.2" cy="491.01" rx="1.0" ry="0.85" fill="#111"/><ellipse cx="214.2" cy="475.51" rx="1.45" ry="1.05" fill="#111"/><path d="M217.2 494.83V498.66M215.75 494.83H218.65M215.75 498.66H218.65" stroke="#000" stroke-width="0.9" fill="none"/><ellipse cx="217.2" cy="497.34" rx="0.9" ry="0.8" fill="#111"/><ellipse cx="217.2" cy="491.64" rx="1.0" ry="0.85" fill="#111"/><ellipse cx="220.2" cy="505.87" rx="1.45" ry="1.05" fill="#111"/><ellipse cx="223.2" cy="485.4" rx="1.45" ry="1.05" fill="#111"/><ellipse cx="226.2" cy="479.26" rx="1.45" ry="1.05" fill="#111"/><ellipse cx="226.2" cy="476.59" rx="1.0" ry="0.85" fill="#111"/><ellipse cx="229.2" cy="485.4" rx="1.45" ry="1.05" fill="#111"/><ellipse cx="232.2" cy="504.85" rx="1.45" ry="1.05" fill="#111"/><ellipse cx="235.2" cy="509.97" rx="1.45" ry="1.05" fill="#111"/><path d="M238.2 489.09V504.4M236.75 489.09H239.65M236.75 504.4H239.65" stroke="#000" stroke-width="0.9" fill="none"/><ellipse cx="238.2" cy="497.34" rx="0.9" ry="0.8" fill="#111"/><circle cx="238.2" cy="482.08" r="0.85" fill="#777" fill-opacity="0.85"/><circle cx="238.2" cy="518.43" r="0.85" fill="#777" fill-opacity="0.85"/><ellipse cx="241.2" cy="484.38" rx="1.45" ry="1.05" fill="#111"/><circle cx="241.2" cy="497.77" r="0.85" fill="#777" fill-opacity="0.85"/><ellipse cx="244.2" cy="502.8" rx="1.45" ry="1.05" fill="#111"/><ellipse cx="247.2" cy="475.51" rx="1.45" ry="1.05" fill="#111"/><ellipse cx="247.2" cy="471.49" rx="1.0" ry="0.85" fill="#111"/><ellipse cx="247.2" cy="474.04" rx="1.0" ry="0.85" fill="#111"/><path d="M250.2 482.08V488.45M248.75 482.08H251.65M248.75 488.45H251.65" stroke="#000" stroke-width="0.9" fill="none"/><ellipse cx="250.2" cy="488.13" rx="0.9" ry="0.8" fill="#111"/><circle cx="250.2" cy="494.19" r="0.85" fill="#777" fill-opacity="0.85"/><path d="M253.2 487.82V504.4M251.75 487.82H254.65M251.75 504.4H254.65" stroke="#000" stroke-width="0.9" fill="none"/><ellipse cx="253.2" cy="495.98" rx="0.9" ry="0.8" fill="#111"/><circle cx="253.2" cy="520.34" r="0.85" fill="#777" fill-opacity="0.85"/><path d="M256.2 480.42V483.99M254.75 480.42H257.65M254.75 483.99H257.65" stroke="#000" stroke-width="0.9" fill="none"/><ellipse cx="256.2" cy="481.99" rx="0.9" ry="0.8" fill="#111"/><circle cx="256.2" cy="491.01" r="0.85" fill="#777" fill-opacity="0.85"/><circle cx="256.2" cy="477.61" r="0.85" fill="#777" fill-opacity="0.85"/><ellipse cx="259.2" cy="483.69" rx="1.45" ry="1.05" fill="#111"/><path d="M262.2 459.76V468.05M260.75 459.76H263.65M260.75 468.05H263.65" stroke="#000" stroke-width="0.9" fill="none"/><ellipse cx="262.2" cy="464.25" rx="0.9" ry="0.8" fill="#111"/><ellipse cx="262.2" cy="457.2" rx="1.0" ry="0.85" fill="#111"/><circle cx="262.2" cy="477.61" r="0.85" fill="#777" fill-opacity="0.85"/>
<rect x="268.56" y="485.4" width="2.97" height="13.65" fill="#EE7A35"/><rect x="274.56" y="485.06" width="2.97" height="0.34" fill="#2443F2"/><rect x="280.56" y="485.4" width="2.97" height="19.45" fill="#FF2FD3"/><rect x="283.56" y="485.4" width="2.97" height="3.75" fill="#3FF024"/><rect x="286.56" y="481.99" width="2.97" height="3.41" fill="#6E4B69"/><rect x="289.56" y="485.4" width="2.97" height="4.09" fill="#F5106F"/><rect x="292.56" y="485.4" width="2.97" height="15.7" fill="#6C8F3C"/><rect x="298.56" y="485.4" width="2.97" height="15.01" fill="#8200AA"/><rect x="304.56" y="483.35" width="2.97" height="2.05" fill="#FFD6BF"/><rect x="307.56" y="485.4" width="2.97" height="2.73" fill="#EFB2F7"/><rect x="310.56" y="485.4" width="2.97" height="1.02" fill="#7F4A16"/><rect x="316.56" y="485.4" width="2.97" height="2.73" fill="#C6EE2E"/><rect x="319.56" y="471.07" width="2.97" height="14.33" fill="#45EF9C"/><rect x="322.56" y="485.4" width="2.97" height="4.09" fill="#E41CF4"/><rect x="328.56" y="485.4" width="2.97" height="2.73" fill="#174F86"/><rect x="334.56" y="480.62" width="2.97" height="4.78" fill="#B8314E"/><ellipse cx="270.05" cy="499.05" rx="1.45" ry="1.05" fill="#111"/><ellipse cx="273.05" cy="485.4" rx="1.45" ry="1.05" fill="#111"/><path d="M276.05 480.8V487.82M274.6 480.8H277.5M274.6 487.82H277.5" stroke="#000" stroke-width="0.9" fill="none"/><ellipse cx="276.05" cy="485.06" rx="0.9" ry="0.8" fill="#111"/><ellipse cx="276.05" cy="478.89" rx="1.0" ry="0.85" fill="#111"/><circle cx="276.05" cy="494.83" r="0.85" fill="#777" fill-opacity="0.85"/><ellipse cx="279.05" cy="485.4" rx="1.45" ry="1.05" fill="#111"/><ellipse cx="282.05" cy="504.85" rx="1.45" ry="1.05" fill="#111"/><path d="M285.05 489.35V492.28M283.6 489.35H286.5M283.6 492.28H286.5" stroke="#000" stroke-width="0.9" fill="none"/><ellipse cx="285.05" cy="489.15" rx="0.9" ry="0.8" fill="#111"/><circle cx="285.05" cy="498.02" r="0.85" fill="#777" fill-opacity="0.85"/><ellipse cx="288.05" cy="481.99" rx="1.45" ry="1.05" fill="#111"/><ellipse cx="288.05" cy="479.91" rx="1.0" ry="0.85" fill="#111"/><path d="M291.05 487.18V492.92M289.6 487.18H292.5M289.6 492.92H292.5" stroke="#000" stroke-width="0.9" fill="none"/><ellipse cx="291.05" cy="489.49" rx="0.9" ry="0.8" fill="#111"/><circle cx="291.05" cy="497.38" r="0.85" fill="#777" fill-opacity="0.85"/><path d="M294.05 494.83V507.59M292.6 494.83H295.5M292.6 507.59H295.5" stroke="#000" stroke-width="0.9" fill="none"/><ellipse cx="294.05" cy="501.1" rx="0.9" ry="0.8" fill="#111"/><ellipse cx="297.05" cy="485.4" rx="1.45" ry="1.05" fill="#111"/><path d="M300.05 497.38V505.04M298.6 497.38H301.5M298.6 505.04H301.5" stroke="#000" stroke-width="0.9" fill="none"/><ellipse cx="300.05" cy="500.41" rx="0.9" ry="0.8" fill="#111"/><ellipse cx="300.05" cy="488.45" rx="1.0" ry="0.85" fill="#111"/><circle cx="300.05" cy="510.14" r="0.85" fill="#777" fill-opacity="0.85"/><ellipse cx="303.05" cy="485.4" rx="1.45" ry="1.05" fill="#111"/><path d="M306.05 478.25V485.27M304.6 478.25H307.5M304.6 485.27H307.5" stroke="#000" stroke-width="0.9" fill="none"/><ellipse cx="306.05" cy="483.35" rx="0.9" ry="0.8" fill="#111"/><ellipse cx="309.05" cy="488.13" rx="1.45" ry="1.05" fill="#111"/><path d="M312.05 482.08V488.45M310.6 482.08H313.5M310.6 488.45H313.5" stroke="#000" stroke-width="0.9" fill="none"/><ellipse cx="312.05" cy="486.42" rx="0.9" ry="0.8" fill="#111"/><circle cx="312.05" cy="493.56" r="0.85" fill="#777" fill-opacity="0.85"/><ellipse cx="315.05" cy="485.4" rx="1.45" ry="1.05" fill="#111"/><ellipse cx="318.05" cy="488.13" rx="1.45" ry="1.05" fill="#111"/><circle cx="318.05" cy="493.94" r="0.85" fill="#777" fill-opacity="0.85"/><path d="M321.05 468.05V477.61M319.6 468.05H322.5M319.6 477.61H322.5" stroke="#000" stroke-width="0.9" fill="none"/><ellipse cx="321.05" cy="471.07" rx="0.9" ry="0.8" fill="#111"/><ellipse cx="324.05" cy="489.49" rx="1.45" ry="1.05" fill="#111"/><ellipse cx="327.05" cy="485.4" rx="1.45" ry="1.05" fill="#111"/><path d="M330.05 486.54V491.01M328.6 486.54H331.5M328.6 491.01H331.5" stroke="#000" stroke-width="0.9" fill="none"/><ellipse cx="330.05" cy="488.13" rx="0.9" ry="0.8" fill="#111"/><ellipse cx="333.05" cy="485.4" rx="1.45" ry="1.05" fill="#111"/><path d="M336.05 477.61V485.27M334.6 477.61H337.5M334.6 485.27H337.5" stroke="#000" stroke-width="0.9" fill="none"/><ellipse cx="336.05" cy="480.62" rx="0.9" ry="0.8" fill="#111"/><ellipse cx="336.05" cy="475.06" rx="1.0" ry="0.85" fill="#111"/>
<rect x="342.31" y="485.4" width="2.97" height="13.65" fill="#EE7A35"/><rect x="348.31" y="484.72" width="2.97" height="0.68" fill="#2443F2"/><rect x="354.31" y="485.4" width="2.97" height="19.45" fill="#FF2FD3"/><rect x="357.31" y="485.4" width="2.97" height="2.73" fill="#3FF024"/><rect x="360.31" y="480.62" width="2.97" height="4.78" fill="#6E4B69"/><rect x="363.31" y="485.4" width="2.97" height="2.39" fill="#F5106F"/><rect x="366.31" y="485.4" width="2.97" height="15.01" fill="#6C8F3C"/><rect x="372.31" y="485.4" width="2.97" height="15.7" fill="#8200AA"/><rect x="378.31" y="485.4" width="2.97" height="1.36" fill="#FFD6BF"/><rect x="381.31" y="485.4" width="2.97" height="3.41" fill="#EFB2F7"/><rect x="384.31" y="485.4" width="2.97" height="1.71" fill="#7F4A16"/><rect x="390.31" y="485.4" width="2.97" height="2.73" fill="#C6EE2E"/><rect x="393.31" y="473.12" width="2.97" height="12.28" fill="#45EF9C"/><rect x="396.31" y="485.4" width="2.97" height="4.09" fill="#E41CF4"/><rect x="402.31" y="485.4" width="2.97" height="2.73" fill="#174F86"/><rect x="405.31" y="485.4" width="2.97" height="1.02" fill="#1F9176"/><rect x="408.31" y="479.26" width="2.97" height="6.14" fill="#B8314E"/><ellipse cx="343.8" cy="499.05" rx="1.45" ry="1.05" fill="#111"/><ellipse cx="346.8" cy="485.4" rx="1.45" ry="1.05" fill="#111"/><path d="M349.8 479.53V487.18M348.35 479.53H351.25M348.35 487.18H351.25" stroke="#000" stroke-width="0.9" fill="none"/><ellipse cx="349.8" cy="484.72" rx="0.9" ry="0.8" fill="#111"/><circle cx="349.8" cy="494.83" r="0.85" fill="#777" fill-opacity="0.85"/><ellipse cx="352.8" cy="485.4" rx="1.45" ry="1.05" fill="#111"/><ellipse cx="355.8" cy="504.85" rx="1.45" ry="1.05" fill="#111"/><ellipse cx="358.8" cy="488.13" rx="1.45" ry="1.05" fill="#111"/><circle cx="358.8" cy="490.37" r="0.85" fill="#777" fill-opacity="0.85"/><ellipse cx="361.8" cy="480.62" rx="1.45" ry="1.05" fill="#111"/><ellipse cx="361.8" cy="478.89" rx="1.0" ry="0.85" fill="#111"/><path d="M364.8 485.27V490.37M363.35 485.27H366.25M363.35 490.37H366.25" stroke="#000" stroke-width="0.9" fill="none"/><ellipse cx="364.8" cy="487.79" rx="0.9" ry="0.8" fill="#111"/><circle cx="364.8" cy="494.83" r="0.85" fill="#777" fill-opacity="0.85"/><path d="M367.8 494.83V507.59M366.35 494.83H369.25M366.35 507.59H369.25" stroke="#000" stroke-width="0.9" fill="none"/><ellipse cx="367.8" cy="500.41" rx="0.9" ry="0.8" fill="#111"/><ellipse cx="370.8" cy="485.4" rx="1.45" ry="1.05" fill="#111"/><path d="M373.8 495.21V506.31M372.35 495.21H375.25M372.35 506.31H375.25" stroke="#000" stroke-width="0.9" fill="none"/><ellipse cx="373.8" cy="501.1" rx="0.9" ry="0.8" fill="#111"/><circle cx="373.8" cy="510.52" r="0.85" fill="#777" fill-opacity="0.85"/><ellipse cx="376.8" cy="485.4" rx="1.45" ry="1.05" fill="#111"/><ellipse cx="379.8" cy="486.76" rx="1.45" ry="1.05" fill="#111"/><path d="M382.8 487.18V492.28M381.35 487.18H384.25M381.35 492.28H384.25" stroke="#000" stroke-width="0.9" fill="none"/><ellipse cx="382.8" cy="488.81" rx="0.9" ry="0.8" fill="#111"/><circle cx="382.8" cy="482.71" r="0.85" fill="#777" fill-opacity="0.85"/><path d="M385.8 482.71V491.01M384.35 482.71H387.25M384.35 491.01H387.25" stroke="#000" stroke-width="0.9" fill="none"/><ellipse cx="385.8" cy="487.11" rx="0.9" ry="0.8" fill="#111"/><circle cx="385.8" cy="497.77" r="0.85" fill="#777" fill-opacity="0.85"/><ellipse cx="388.8" cy="485.4" rx="1.45" ry="1.05" fill="#111"/><ellipse cx="391.8" cy="488.13" rx="1.45" ry="1.05" fill="#111"/><path d="M394.8 469.96V474.42M393.35 469.96H396.25M393.35 474.42H396.25" stroke="#000" stroke-width="0.9" fill="none"/><ellipse cx="394.8" cy="473.12" rx="0.9" ry="0.8" fill="#111"/><circle cx="394.8" cy="477.61" r="0.85" fill="#777" fill-opacity="0.85"/><ellipse cx="397.8" cy="489.49" rx="1.45" ry="1.05" fill="#111"/><circle cx="397.8" cy="492.28" r="0.85" fill="#777" fill-opacity="0.85"/><ellipse cx="400.8" cy="485.4" rx="1.45" ry="1.05" fill="#111"/><path d="M403.8 483.99V491.01M402.35 483.99H405.25M402.35 491.01H405.25" stroke="#000" stroke-width="0.9" fill="none"/><ellipse cx="403.8" cy="488.13" rx="0.9" ry="0.8" fill="#111"/><ellipse cx="406.8" cy="486.42" rx="1.45" ry="1.05" fill="#111"/><path d="M409.8 476.97V481.44M408.35 476.97H411.25M408.35 481.44H411.25" stroke="#000" stroke-width="0.9" fill="none"/><ellipse cx="409.8" cy="479.26" rx="0.9" ry="0.8" fill="#111"/><ellipse cx="409.8" cy="475.7" rx="1.0" ry="0.85" fill="#111"/>
<rect x="416.17" y="485.4" width="2.97" height="13.65" fill="#EE7A35"/><rect x="422.17" y="485.4" width="2.97" height="2.73" fill="#2443F2"/><rect x="428.17" y="485.4" width="2.97" height="19.45" fill="#FF2FD3"/><rect x="431.17" y="485.4" width="2.97" height="2.05" fill="#3FF024"/><rect x="434.17" y="483.35" width="2.97" height="2.05" fill="#6E4B69"/><rect x="437.17" y="483.69" width="2.97" height="1.71" fill="#F5106F"/><rect x="440.17" y="485.4" width="2.97" height="21.84" fill="#6C8F3C"/><rect x="446.17" y="485.4" width="2.97" height="13.65" fill="#8200AA"/><rect x="452.17" y="485.4" width="2.97" height="19.11" fill="#FFD6BF"/><rect x="455.17" y="485.4" width="2.97" height="20.13" fill="#EFB2F7"/><rect x="458.17" y="485.4" width="2.97" height="19.45" fill="#7F4A16"/><rect x="461.17" y="484.72" width="2.97" height="0.68" fill="#BEDEE6"/><rect x="464.17" y="485.4" width="2.97" height="2.73" fill="#C6EE2E"/><rect x="467.17" y="476.19" width="2.97" height="9.21" fill="#45EF9C"/><rect x="470.17" y="485.4" width="2.97" height="2.05" fill="#E41CF4"/><rect x="476.17" y="485.4" width="2.97" height="1.71" fill="#174F86"/><rect x="479.17" y="485.4" width="2.97" height="0.68" fill="#1F9176"/><rect x="482.17" y="468.68" width="2.97" height="16.72" fill="#B8314E"/><ellipse cx="417.65" cy="499.05" rx="1.45" ry="1.05" fill="#111"/><ellipse cx="420.65" cy="485.4" rx="1.45" ry="1.05" fill="#111"/><path d="M423.65 483.99V492.28M422.2 483.99H425.1M422.2 492.28H425.1" stroke="#000" stroke-width="0.9" fill="none"/><ellipse cx="423.65" cy="488.13" rx="0.9" ry="0.8" fill="#111"/><ellipse cx="423.65" cy="482.08" rx="1.0" ry="0.85" fill="#111"/><ellipse cx="423.65" cy="495.21" rx="1.0" ry="0.85" fill="#111"/><ellipse cx="426.65" cy="485.4" rx="1.45" ry="1.05" fill="#111"/><ellipse cx="429.65" cy="504.85" rx="1.45" ry="1.05" fill="#111"/><path d="M432.65 485.27V490.62M431.2 485.27H434.1M431.2 490.62H434.1" stroke="#000" stroke-width="0.9" fill="none"/><ellipse cx="432.65" cy="487.45" rx="0.9" ry="0.8" fill="#111"/><ellipse cx="432.65" cy="482.97" rx="1.0" ry="0.85" fill="#111"/><circle cx="432.65" cy="498.02" r="0.85" fill="#777" fill-opacity="0.85"/><ellipse cx="435.65" cy="483.35" rx="1.45" ry="1.05" fill="#111"/><ellipse cx="438.65" cy="483.69" rx="1.45" ry="1.05" fill="#111"/><circle cx="438.65" cy="494.19" r="0.85" fill="#777" fill-opacity="0.85"/><ellipse cx="441.65" cy="507.24" rx="1.45" ry="1.05" fill="#111"/><ellipse cx="444.65" cy="485.4" rx="1.45" ry="1.05" fill="#111"/><path d="M447.65 494.19V505.42M446.2 494.19H449.1M446.2 505.42H449.1" stroke="#000" stroke-width="0.9" fill="none"/><ellipse cx="447.65" cy="499.05" rx="0.9" ry="0.8" fill="#111"/><circle cx="447.65" cy="513.96" r="0.85" fill="#777" fill-opacity="0.85"/><ellipse cx="450.65" cy="485.4" rx="1.45" ry="1.05" fill="#111"/><ellipse cx="453.65" cy="504.51" rx="1.45" ry="1.05" fill="#111"/><path d="M456.65 499.3V512.69M455.2 499.3H458.1M455.2 512.69H458.1" stroke="#000" stroke-width="0.9" fill="none"/><ellipse cx="456.65" cy="505.53" rx="0.9" ry="0.8" fill="#111"/><circle cx="456.65" cy="513.96" r="0.85" fill="#777" fill-opacity="0.85"/><circle cx="456.65" cy="486.54" r="0.85" fill="#777" fill-opacity="0.85"/><path d="M459.65 496.11V510.14M458.2 496.11H461.1M458.2 510.14H461.1" stroke="#000" stroke-width="0.9" fill="none"/><ellipse cx="459.65" cy="504.85" rx="0.9" ry="0.8" fill="#111"/><ellipse cx="462.65" cy="484.72" rx="1.45" ry="1.05" fill="#111"/><ellipse cx="465.65" cy="488.13" rx="1.45" ry="1.05" fill="#111"/><path d="M468.65 473.79V478.89M467.2 473.79H470.1M467.2 478.89H470.1" stroke="#000" stroke-width="0.9" fill="none"/><ellipse cx="468.65" cy="476.19" rx="0.9" ry="0.8" fill="#111"/><ellipse cx="471.65" cy="487.45" rx="1.45" ry="1.05" fill="#111"/><ellipse cx="474.65" cy="485.4" rx="1.45" ry="1.05" fill="#111"/><ellipse cx="477.65" cy="487.11" rx="1.45" ry="1.05" fill="#111"/><circle cx="477.65" cy="490.37" r="0.85" fill="#777" fill-opacity="0.85"/><ellipse cx="480.65" cy="486.08" rx="1.45" ry="1.05" fill="#111"/><path d="M483.65 464.22V473.79M482.2 464.22H485.1M482.2 473.79H485.1" stroke="#000" stroke-width="0.9" fill="none"/><ellipse cx="483.65" cy="468.68" rx="0.9" ry="0.8" fill="#111"/><circle cx="483.65" cy="458.73" r="0.85" fill="#777" fill-opacity="0.85"/>
<rect x="119.35" y="449.8" width="71.7" height="76.8" fill="#ff0000" fill-opacity="0.095"/>
<rect x="193.1" y="449.8" width="71.7" height="76.8" fill="#ff0000" fill-opacity="0.235"/>
<rect x="340.7" y="449.8" width="71.7" height="76.8" fill="#ff0000" fill-opacity="0.095"/>
<rect x="414.55" y="449.8" width="71.7" height="76.8" fill="#ff0000" fill-opacity="0.235"/>
<path d="M46.2 532.1V617.6" stroke="#8E8E8E" stroke-width="1.5" fill="none"/>
<path d="M42.1 538.93H46.2" stroke="#666" stroke-width="0.65" fill="none"/>
<text x="39.3" y="541.63" font-size="7.5" text-anchor="end" fill="#222">10</text>
<path d="M42.1 555.99H46.2" stroke="#666" stroke-width="0.65" fill="none"/>
<text x="39.3" y="558.69" font-size="7.5" text-anchor="end" fill="#222">5</text>
<path d="M42.1 573.05H46.2" stroke="#666" stroke-width="0.65" fill="none"/>
<text x="39.3" y="575.75" font-size="7.5" text-anchor="end" fill="#222">0</text>
<path d="M42.1 590.11H46.2" stroke="#666" stroke-width="0.65" fill="none"/>
<text x="39.3" y="592.81" font-size="7.5" text-anchor="end" fill="#222">−5</text>
<path d="M42.1 607.17H46.2" stroke="#666" stroke-width="0.65" fill="none"/>
<text x="39.3" y="609.87" font-size="7.5" text-anchor="end" fill="#222">−10</text>
<rect x="47.41" y="573.05" width="2.97" height="6.14" fill="#EE7A35"/><rect x="53.41" y="573.05" width="2.97" height="5.12" fill="#2443F2"/><rect x="59.41" y="573.05" width="2.97" height="19.11" fill="#FF2FD3"/><rect x="62.41" y="573.05" width="2.97" height="14.67" fill="#3FF024"/><rect x="65.42" y="568.96" width="2.97" height="4.09" fill="#6E4B69"/><rect x="68.42" y="573.05" width="2.97" height="17.06" fill="#F5106F"/><rect x="71.42" y="573.05" width="2.97" height="15.7" fill="#6C8F3C"/><rect x="77.42" y="559.06" width="2.97" height="13.99" fill="#8200AA"/><rect x="83.42" y="571" width="2.97" height="2.05" fill="#FFD6BF"/><rect x="86.42" y="570.32" width="2.97" height="2.73" fill="#EFB2F7"/><rect x="89.42" y="573.05" width="2.97" height="14.67" fill="#7F4A16"/><rect x="92.42" y="573.05" width="2.97" height="27.3" fill="#BEDEE6"/><rect x="95.42" y="573.05" width="2.97" height="17.4" fill="#C6EE2E"/><rect x="98.42" y="553.94" width="2.97" height="19.11" fill="#45EF9C"/><rect x="101.42" y="571.69" width="2.97" height="1.36" fill="#E41CF4"/><rect x="104.42" y="573.05" width="2.97" height="2.39" fill="#F4553B"/><rect x="107.42" y="564.52" width="2.97" height="8.53" fill="#174F86"/><rect x="110.42" y="573.05" width="2.97" height="2.39" fill="#1F9176"/><rect x="113.42" y="541.32" width="2.97" height="31.73" fill="#B8314E"/><ellipse cx="48.9" cy="579.19" rx="1.45" ry="1.05" fill="#111"/><ellipse cx="48.9" cy="576.09" rx="1.0" ry="0.85" fill="#111"/><ellipse cx="48.9" cy="581.83" rx="1.0" ry="0.85" fill="#111"/><ellipse cx="51.9" cy="573.05" rx="1.45" ry="1.05" fill="#111"/><ellipse cx="54.9" cy="578.17" rx="1.45" ry="1.05" fill="#111"/><ellipse cx="54.9" cy="575.45" rx="1.0" ry="0.85" fill="#111"/><ellipse cx="54.9" cy="580.94" rx="1.0" ry="0.85" fill="#111"/><circle cx="54.9" cy="583.11" r="0.85" fill="#777" fill-opacity="0.85"/><ellipse cx="57.9" cy="573.05" rx="1.45" ry="1.05" fill="#111"/><ellipse cx="60.9" cy="592.16" rx="1.45" ry="1.05" fill="#111"/><ellipse cx="63.9" cy="587.72" rx="1.45" ry="1.05" fill="#111"/><ellipse cx="66.9" cy="568.96" rx="1.45" ry="1.05" fill="#111"/><ellipse cx="66.9" cy="565.25" rx="1.0" ry="0.85" fill="#111"/><ellipse cx="66.9" cy="567.42" rx="1.0" ry="0.85" fill="#111"/><ellipse cx="69.9" cy="590.11" rx="1.45" ry="1.05" fill="#111"/><path d="M72.9 586.3V593.31M71.45 586.3H74.35M71.45 593.31H74.35" stroke="#000" stroke-width="0.9" fill="none"/><ellipse cx="72.9" cy="588.75" rx="0.9" ry="0.8" fill="#111"/><circle cx="72.9" cy="578.64" r="0.85" fill="#777" fill-opacity="0.85"/><ellipse cx="75.9" cy="573.05" rx="1.45" ry="1.05" fill="#111"/><ellipse cx="78.9" cy="559.06" rx="1.45" ry="1.05" fill="#111"/><ellipse cx="81.9" cy="573.05" rx="1.45" ry="1.05" fill="#111"/><ellipse cx="84.9" cy="571" rx="1.45" ry="1.05" fill="#111"/><ellipse cx="87.9" cy="570.32" rx="1.45" ry="1.05" fill="#111"/><path d="M90.9 582.47V588.21M89.45 582.47H92.35M89.45 588.21H92.35" stroke="#000" stroke-width="0.9" fill="none"/><ellipse cx="90.9" cy="587.72" rx="0.9" ry="0.8" fill="#111"/><circle cx="90.9" cy="590.76" r="0.85" fill="#777" fill-opacity="0.85"/><path d="M93.9 596.5V606.45M92.45 596.5H95.35M92.45 606.45H95.35" stroke="#000" stroke-width="0.9" fill="none"/><ellipse cx="93.9" cy="600.35" rx="0.9" ry="0.8" fill="#111"/><circle cx="93.9" cy="613.08" r="0.85" fill="#777" fill-opacity="0.85"/><ellipse cx="96.9" cy="590.45" rx="1.45" ry="1.05" fill="#111"/><ellipse cx="99.9" cy="553.94" rx="1.45" ry="1.05" fill="#111"/><ellipse cx="102.9" cy="571.69" rx="1.45" ry="1.05" fill="#111"/><ellipse cx="105.9" cy="575.44" rx="1.45" ry="1.05" fill="#111"/><ellipse cx="108.9" cy="564.52" rx="1.45" ry="1.05" fill="#111"/><ellipse cx="111.9" cy="575.44" rx="1.45" ry="1.05" fill="#111"/><ellipse cx="114.9" cy="541.32" rx="1.45" ry="1.05" fill="#111"/>
<rect x="120.96" y="573.05" width="2.97" height="2.39" fill="#EE7A35"/><rect x="126.96" y="573.05" width="2.97" height="4.44" fill="#2443F2"/><rect x="132.96" y="573.05" width="2.97" height="19.11" fill="#FF2FD3"/><rect x="135.96" y="573.05" width="2.97" height="14.67" fill="#3FF024"/><rect x="138.96" y="571" width="2.97" height="2.05" fill="#6E4B69"/><rect x="141.96" y="573.05" width="2.97" height="17.4" fill="#F5106F"/><rect x="144.96" y="573.05" width="2.97" height="15.35" fill="#6C8F3C"/><rect x="150.96" y="560.08" width="2.97" height="12.97" fill="#8200AA"/><rect x="156.96" y="573.05" width="2.97" height="1.02" fill="#FFD6BF"/><rect x="159.96" y="570.32" width="2.97" height="2.73" fill="#EFB2F7"/><rect x="162.96" y="573.05" width="2.97" height="12.62" fill="#7F4A16"/><rect x="165.96" y="573.05" width="2.97" height="26.61" fill="#BEDEE6"/><rect x="168.96" y="573.05" width="2.97" height="17.4" fill="#C6EE2E"/><rect x="171.96" y="553.26" width="2.97" height="19.79" fill="#45EF9C"/><rect x="174.96" y="571.69" width="2.97" height="1.36" fill="#E41CF4"/><rect x="177.96" y="573.05" width="2.97" height="2.39" fill="#F4553B"/><rect x="180.96" y="564.52" width="2.97" height="8.53" fill="#174F86"/><rect x="183.96" y="573.05" width="2.97" height="2.39" fill="#1F9176"/><rect x="186.96" y="540.29" width="2.97" height="32.76" fill="#B8314E"/><path d="M122.45 573.54V579.28M121 573.54H123.9M121 579.28H123.9" stroke="#000" stroke-width="0.9" fill="none"/><ellipse cx="122.45" cy="575.44" rx="0.9" ry="0.8" fill="#111"/><circle cx="122.45" cy="570.35" r="0.85" fill="#777" fill-opacity="0.85"/><circle cx="122.45" cy="581.19" r="0.85" fill="#777" fill-opacity="0.85"/><ellipse cx="125.45" cy="573.05" rx="1.45" ry="1.05" fill="#111"/><path d="M128.45 575.45V579.28M127 575.45H129.9M127 579.28H129.9" stroke="#000" stroke-width="0.9" fill="none"/><ellipse cx="128.45" cy="577.49" rx="0.9" ry="0.8" fill="#111"/><circle cx="128.45" cy="583.49" r="0.85" fill="#777" fill-opacity="0.85"/><ellipse cx="131.45" cy="573.05" rx="1.45" ry="1.05" fill="#111"/><ellipse cx="134.45" cy="592.16" rx="1.45" ry="1.05" fill="#111"/><ellipse cx="137.45" cy="587.72" rx="1.45" ry="1.05" fill="#111"/><path d="M140.45 566.53V572.27M139 566.53H141.9M139 572.27H141.9" stroke="#000" stroke-width="0.9" fill="none"/><ellipse cx="140.45" cy="571" rx="0.9" ry="0.8" fill="#111"/><circle cx="140.45" cy="564.61" r="0.85" fill="#777" fill-opacity="0.85"/><circle cx="140.45" cy="579.28" r="0.85" fill="#777" fill-opacity="0.85"/><ellipse cx="143.45" cy="590.45" rx="1.45" ry="1.05" fill="#111"/><path d="M146.45 588.21V593.69M145 588.21H147.9M145 593.69H147.9" stroke="#000" stroke-width="0.9" fill="none"/><ellipse cx="146.45" cy="588.4" rx="0.9" ry="0.8" fill="#111"/><circle cx="146.45" cy="582.47" r="0.85" fill="#777" fill-opacity="0.85"/><ellipse cx="149.45" cy="573.05" rx="1.45" ry="1.05" fill="#111"/><ellipse cx="152.45" cy="560.08" rx="1.45" ry="1.05" fill="#111"/><ellipse cx="152.45" cy="558.49" rx="1.0" ry="0.85" fill="#111"/><ellipse cx="155.45" cy="573.05" rx="1.45" ry="1.05" fill="#111"/><ellipse cx="158.45" cy="574.07" rx="1.45" ry="1.05" fill="#111"/><ellipse cx="161.45" cy="570.32" rx="1.45" ry="1.05" fill="#111"/><path d="M164.45 585.02V590.12M163 585.02H165.9M163 590.12H165.9" stroke="#000" stroke-width="0.9" fill="none"/><ellipse cx="164.45" cy="585.67" rx="0.9" ry="0.8" fill="#111"/><circle cx="164.45" cy="591.4" r="0.85" fill="#777" fill-opacity="0.85"/><path d="M167.45 599.05V606.7M166 599.05H168.9M166 606.7H168.9" stroke="#000" stroke-width="0.9" fill="none"/><ellipse cx="167.45" cy="599.66" rx="0.9" ry="0.8" fill="#111"/><circle cx="167.45" cy="613.08" r="0.85" fill="#777" fill-opacity="0.85"/><ellipse cx="170.45" cy="590.45" rx="1.45" ry="1.05" fill="#111"/><ellipse cx="173.45" cy="553.26" rx="1.45" ry="1.05" fill="#111"/><ellipse cx="176.45" cy="571.69" rx="1.45" ry="1.05" fill="#111"/><ellipse cx="179.45" cy="575.44" rx="1.45" ry="1.05" fill="#111"/><ellipse cx="182.45" cy="564.52" rx="1.45" ry="1.05" fill="#111"/><ellipse cx="185.45" cy="575.44" rx="1.45" ry="1.05" fill="#111"/><ellipse cx="188.45" cy="540.29" rx="1.45" ry="1.05" fill="#111"/>
<rect x="194.71" y="573.05" width="2.97" height="8.19" fill="#EE7A35"/><rect x="200.71" y="573.05" width="2.97" height="10.58" fill="#2443F2"/><rect x="206.71" y="573.05" width="2.97" height="19.11" fill="#FF2FD3"/><rect x="209.71" y="573.05" width="2.97" height="11.26" fill="#3FF024"/><rect x="212.71" y="567.93" width="2.97" height="5.12" fill="#6E4B69"/><rect x="215.71" y="573.05" width="2.97" height="17.4" fill="#F5106F"/><rect x="218.71" y="573.05" width="2.97" height="20.47" fill="#6C8F3C"/><rect x="224.71" y="560.77" width="2.97" height="12.28" fill="#8200AA"/><rect x="230.71" y="573.05" width="2.97" height="4.44" fill="#FFD6BF"/><rect x="233.71" y="571" width="2.97" height="2.05" fill="#EFB2F7"/><rect x="236.71" y="573.05" width="2.97" height="13.99" fill="#7F4A16"/><rect x="239.71" y="573.05" width="2.97" height="30.71" fill="#BEDEE6"/><rect x="242.71" y="573.05" width="2.97" height="17.4" fill="#C6EE2E"/><rect x="245.71" y="559.4" width="2.97" height="13.65" fill="#45EF9C"/><rect x="248.71" y="571" width="2.97" height="2.05" fill="#E41CF4"/><rect x="251.71" y="573.05" width="2.97" height="15.7" fill="#F4553B"/><rect x="254.71" y="564.52" width="2.97" height="8.53" fill="#174F86"/><rect x="257.71" y="573.05" width="2.97" height="1.71" fill="#1F9176"/><rect x="260.71" y="539.95" width="2.97" height="33.1" fill="#B8314E"/><ellipse cx="196.2" cy="581.24" rx="1.45" ry="1.05" fill="#111"/><ellipse cx="199.2" cy="573.05" rx="1.45" ry="1.05" fill="#111"/><ellipse cx="202.2" cy="583.63" rx="1.45" ry="1.05" fill="#111"/><ellipse cx="205.2" cy="573.05" rx="1.45" ry="1.05" fill="#111"/><ellipse cx="208.2" cy="592.16" rx="1.45" ry="1.05" fill="#111"/><path d="M211.2 580.56V588.21M209.75 580.56H212.65M209.75 588.21H212.65" stroke="#000" stroke-width="0.9" fill="none"/><ellipse cx="211.2" cy="584.31" rx="0.9" ry="0.8" fill="#111"/><ellipse cx="211.2" cy="580.56" rx="1.0" ry="0.85" fill="#111"/><ellipse cx="214.2" cy="567.93" rx="1.45" ry="1.05" fill="#111"/><ellipse cx="214.2" cy="565.89" rx="1.0" ry="0.85" fill="#111"/><ellipse cx="217.2" cy="590.45" rx="1.45" ry="1.05" fill="#111"/><ellipse cx="220.2" cy="593.52" rx="1.45" ry="1.05" fill="#111"/><ellipse cx="223.2" cy="573.05" rx="1.45" ry="1.05" fill="#111"/><ellipse cx="226.2" cy="560.77" rx="1.45" ry="1.05" fill="#111"/><ellipse cx="226.2" cy="558.23" rx="1.0" ry="0.85" fill="#111"/><ellipse cx="229.2" cy="573.05" rx="1.45" ry="1.05" fill="#111"/><path d="M232.2 572.27V582.47M230.75 572.27H233.65M230.75 582.47H233.65" stroke="#000" stroke-width="0.9" fill="none"/><ellipse cx="232.2" cy="577.49" rx="0.9" ry="0.8" fill="#111"/><circle cx="232.2" cy="592.04" r="0.85" fill="#777" fill-opacity="0.85"/><ellipse cx="235.2" cy="571" rx="1.45" ry="1.05" fill="#111"/><ellipse cx="235.2" cy="569.97" rx="1.0" ry="0.85" fill="#111"/><path d="M238.2 584.38V590.12M236.75 584.38H239.65M236.75 590.12H239.65" stroke="#000" stroke-width="0.9" fill="none"/><ellipse cx="238.2" cy="587.04" rx="0.9" ry="0.8" fill="#111"/><ellipse cx="238.2" cy="579.92" rx="1.0" ry="0.85" fill="#111"/><circle cx="238.2" cy="595.86" r="0.85" fill="#777" fill-opacity="0.85"/><path d="M241.2 599.05V610.53M239.75 599.05H242.65M239.75 610.53H242.65" stroke="#000" stroke-width="0.9" fill="none"/><ellipse cx="241.2" cy="603.76" rx="0.9" ry="0.8" fill="#111"/><ellipse cx="241.2" cy="613.08" rx="1.0" ry="0.85" fill="#111"/><ellipse cx="244.2" cy="590.45" rx="1.45" ry="1.05" fill="#111"/><ellipse cx="247.2" cy="559.4" rx="1.45" ry="1.05" fill="#111"/><ellipse cx="247.2" cy="557.6" rx="1.0" ry="0.85" fill="#111"/><ellipse cx="250.2" cy="571" rx="1.45" ry="1.05" fill="#111"/><ellipse cx="250.2" cy="569.08" rx="1.0" ry="0.85" fill="#111"/><ellipse cx="253.2" cy="588.75" rx="1.45" ry="1.05" fill="#111"/><ellipse cx="256.2" cy="564.52" rx="1.45" ry="1.05" fill="#111"/><ellipse cx="259.2" cy="574.76" rx="1.45" ry="1.05" fill="#111"/><ellipse cx="262.2" cy="539.95" rx="1.45" ry="1.05" fill="#111"/>
<rect x="268.56" y="573.05" width="2.97" height="13.65" fill="#EE7A35"/><rect x="274.56" y="568.96" width="2.97" height="4.09" fill="#2443F2"/><rect x="280.56" y="573.05" width="2.97" height="19.11" fill="#FF2FD3"/><rect x="283.56" y="573.05" width="2.97" height="3.07" fill="#3FF024"/><rect x="286.56" y="570.32" width="2.97" height="2.73" fill="#6E4B69"/><rect x="289.56" y="573.05" width="2.97" height="3.07" fill="#F5106F"/><rect x="292.56" y="573.05" width="2.97" height="21.5" fill="#6C8F3C"/><rect x="298.56" y="573.05" width="2.97" height="24.91" fill="#8200AA"/><rect x="304.56" y="573.05" width="2.97" height="0.68" fill="#FFD6BF"/><rect x="307.56" y="573.05" width="2.97" height="3.75" fill="#EFB2F7"/><rect x="310.56" y="571" width="2.97" height="2.05" fill="#7F4A16"/><rect x="316.56" y="573.05" width="2.97" height="1.02" fill="#C6EE2E"/><rect x="319.56" y="561.45" width="2.97" height="11.6" fill="#45EF9C"/><rect x="322.56" y="573.05" width="2.97" height="3.07" fill="#E41CF4"/><rect x="325.56" y="572.03" width="2.97" height="1.02" fill="#F4553B"/><rect x="328.56" y="573.05" width="2.97" height="3.07" fill="#174F86"/><rect x="331.56" y="573.05" width="2.97" height="3.75" fill="#1F9176"/><rect x="334.56" y="567.25" width="2.97" height="5.8" fill="#B8314E"/><ellipse cx="270.05" cy="586.7" rx="1.45" ry="1.05" fill="#111"/><ellipse cx="273.05" cy="573.05" rx="1.45" ry="1.05" fill="#111"/><ellipse cx="276.05" cy="568.96" rx="1.45" ry="1.05" fill="#111"/><ellipse cx="279.05" cy="573.05" rx="1.45" ry="1.05" fill="#111"/><ellipse cx="282.05" cy="592.16" rx="1.45" ry="1.05" fill="#111"/><ellipse cx="285.05" cy="576.12" rx="1.45" ry="1.05" fill="#111"/><ellipse cx="285.05" cy="578.39" rx="1.0" ry="0.85" fill="#111"/><ellipse cx="288.05" cy="570.32" rx="1.45" ry="1.05" fill="#111"/><ellipse cx="288.05" cy="567.42" rx="1.0" ry="0.85" fill="#111"/><ellipse cx="291.05" cy="576.12" rx="1.45" ry="1.05" fill="#111"/><ellipse cx="294.05" cy="594.55" rx="1.45" ry="1.05" fill="#111"/><ellipse cx="297.05" cy="573.05" rx="1.45" ry="1.05" fill="#111"/><ellipse cx="300.05" cy="597.96" rx="1.45" ry="1.05" fill="#111"/><ellipse cx="300.05" cy="600.33" rx="1.0" ry="0.85" fill="#111"/><ellipse cx="300.05" cy="604.15" rx="1.0" ry="0.85" fill="#111"/><ellipse cx="303.05" cy="573.05" rx="1.45" ry="1.05" fill="#111"/><path d="M306.05 570.99V575.45M304.6 570.99H307.5M304.6 575.45H307.5" stroke="#000" stroke-width="0.9" fill="none"/><ellipse cx="306.05" cy="573.73" rx="0.9" ry="0.8" fill="#111"/><circle cx="306.05" cy="567.8" r="0.85" fill="#777" fill-opacity="0.85"/><path d="M309.05 574.82V580.56M307.6 574.82H310.5M307.6 580.56H310.5" stroke="#000" stroke-width="0.9" fill="none"/><ellipse cx="309.05" cy="576.8" rx="0.9" ry="0.8" fill="#111"/><ellipse cx="312.05" cy="571" rx="1.45" ry="1.05" fill="#111"/><ellipse cx="315.05" cy="573.05" rx="1.45" ry="1.05" fill="#111"/><ellipse cx="318.05" cy="574.07" rx="1.45" ry="1.05" fill="#111"/><ellipse cx="318.05" cy="571.63" rx="1.0" ry="0.85" fill="#111"/><ellipse cx="318.05" cy="575.45" rx="1.0" ry="0.85" fill="#111"/><path d="M321.05 558.23V564.61M319.6 558.23H322.5M319.6 564.61H322.5" stroke="#000" stroke-width="0.9" fill="none"/><ellipse cx="321.05" cy="561.45" rx="0.9" ry="0.8" fill="#111"/><ellipse cx="324.05" cy="576.12" rx="1.45" ry="1.05" fill="#111"/><ellipse cx="327.05" cy="572.03" rx="1.45" ry="1.05" fill="#111"/><ellipse cx="330.05" cy="576.12" rx="1.45" ry="1.05" fill="#111"/><ellipse cx="333.05" cy="576.8" rx="1.45" ry="1.05" fill="#111"/><path d="M336.05 564.36V570.99M334.6 564.36H337.5M334.6 570.99H337.5" stroke="#000" stroke-width="0.9" fill="none"/><ellipse cx="336.05" cy="567.25" rx="0.9" ry="0.8" fill="#111"/><circle cx="336.05" cy="560.79" r="0.85" fill="#777" fill-opacity="0.85"/>
<rect x="342.31" y="573.05" width="2.97" height="13.31" fill="#EE7A35"/><rect x="348.31" y="568.61" width="2.97" height="4.44" fill="#2443F2"/><rect x="354.31" y="573.05" width="2.97" height="19.11" fill="#FF2FD3"/><rect x="357.31" y="573.05" width="2.97" height="1.02" fill="#3FF024"/><rect x="360.31" y="568.96" width="2.97" height="4.09" fill="#6E4B69"/><rect x="363.31" y="573.05" width="2.97" height="3.07" fill="#F5106F"/><rect x="366.31" y="573.05" width="2.97" height="21.5" fill="#6C8F3C"/><rect x="372.31" y="573.05" width="2.97" height="29.34" fill="#8200AA"/><rect x="378.31" y="573.05" width="2.97" height="3.75" fill="#FFD6BF"/><rect x="381.31" y="573.05" width="2.97" height="5.12" fill="#EFB2F7"/><rect x="384.31" y="571" width="2.97" height="2.05" fill="#7F4A16"/><rect x="390.31" y="573.05" width="2.97" height="1.02" fill="#C6EE2E"/><rect x="393.31" y="564.52" width="2.97" height="8.53" fill="#45EF9C"/><rect x="396.31" y="573.05" width="2.97" height="3.75" fill="#E41CF4"/><rect x="399.31" y="572.03" width="2.97" height="1.02" fill="#F4553B"/><rect x="402.31" y="573.05" width="2.97" height="2.39" fill="#174F86"/><rect x="405.31" y="573.05" width="2.97" height="3.07" fill="#1F9176"/><rect x="408.31" y="569.64" width="2.97" height="3.41" fill="#B8314E"/><ellipse cx="343.8" cy="586.36" rx="1.45" ry="1.05" fill="#111"/><ellipse cx="346.8" cy="573.05" rx="1.45" ry="1.05" fill="#111"/><ellipse cx="349.8" cy="568.61" rx="1.45" ry="1.05" fill="#111"/><ellipse cx="349.8" cy="566.91" rx="1.0" ry="0.85" fill="#111"/><ellipse cx="352.8" cy="573.05" rx="1.45" ry="1.05" fill="#111"/><ellipse cx="355.8" cy="592.16" rx="1.45" ry="1.05" fill="#111"/><ellipse cx="358.8" cy="574.07" rx="1.45" ry="1.05" fill="#111"/><circle cx="358.8" cy="578.39" r="0.85" fill="#777" fill-opacity="0.85"/><ellipse cx="361.8" cy="568.96" rx="1.45" ry="1.05" fill="#111"/><path d="M364.8 573.54V578.01M363.35 573.54H366.25M363.35 578.01H366.25" stroke="#000" stroke-width="0.9" fill="none"/><ellipse cx="364.8" cy="576.12" rx="0.9" ry="0.8" fill="#111"/><circle cx="364.8" cy="582.21" r="0.85" fill="#777" fill-opacity="0.85"/><ellipse cx="367.8" cy="594.55" rx="1.45" ry="1.05" fill="#111"/><ellipse cx="370.8" cy="573.05" rx="1.45" ry="1.05" fill="#111"/><ellipse cx="373.8" cy="602.39" rx="1.45" ry="1.05" fill="#111"/><ellipse cx="373.8" cy="604.15" rx="1.0" ry="0.85" fill="#111"/><ellipse cx="376.8" cy="573.05" rx="1.45" ry="1.05" fill="#111"/><path d="M379.8 574.82V578.39M378.35 574.82H381.25M378.35 578.39H381.25" stroke="#000" stroke-width="0.9" fill="none"/><ellipse cx="379.8" cy="576.8" rx="0.9" ry="0.8" fill="#111"/><circle cx="379.8" cy="572.01" r="0.85" fill="#777" fill-opacity="0.85"/><path d="M382.8 574.82V582.21M381.35 574.82H384.25M381.35 582.21H384.25" stroke="#000" stroke-width="0.9" fill="none"/><ellipse cx="382.8" cy="578.17" rx="0.9" ry="0.8" fill="#111"/><ellipse cx="385.8" cy="571" rx="1.45" ry="1.05" fill="#111"/><ellipse cx="388.8" cy="573.05" rx="1.45" ry="1.05" fill="#111"/><ellipse cx="391.8" cy="574.07" rx="1.45" ry="1.05" fill="#111"/><path d="M394.8 561.42V565.89M393.35 561.42H396.25M393.35 565.89H396.25" stroke="#000" stroke-width="0.9" fill="none"/><ellipse cx="394.8" cy="564.52" rx="0.9" ry="0.8" fill="#111"/><circle cx="394.8" cy="560.15" r="0.85" fill="#777" fill-opacity="0.85"/><ellipse cx="397.8" cy="576.8" rx="1.45" ry="1.05" fill="#111"/><ellipse cx="400.8" cy="572.03" rx="1.45" ry="1.05" fill="#111"/><ellipse cx="403.8" cy="575.44" rx="1.45" ry="1.05" fill="#111"/><ellipse cx="406.8" cy="576.12" rx="1.45" ry="1.05" fill="#111"/><path d="M409.8 568.44V572.9M408.35 568.44H411.25M408.35 572.9H411.25" stroke="#000" stroke-width="0.9" fill="none"/><ellipse cx="409.8" cy="569.64" rx="0.9" ry="0.8" fill="#111"/><circle cx="409.8" cy="566.91" r="0.85" fill="#777" fill-opacity="0.85"/>
<rect x="416.17" y="573.05" width="2.97" height="13.31" fill="#EE7A35"/><rect x="422.17" y="567.25" width="2.97" height="5.8" fill="#2443F2"/><rect x="428.17" y="573.05" width="2.97" height="19.11" fill="#FF2FD3"/><rect x="431.17" y="573.05" width="2.97" height="2.39" fill="#3FF024"/><rect x="434.17" y="568.96" width="2.97" height="4.09" fill="#6E4B69"/><rect x="437.17" y="573.05" width="2.97" height="3.07" fill="#F5106F"/><rect x="440.17" y="573.05" width="2.97" height="21.5" fill="#6C8F3C"/><rect x="446.17" y="573.05" width="2.97" height="28.66" fill="#8200AA"/><rect x="452.17" y="573.05" width="2.97" height="10.24" fill="#FFD6BF"/><rect x="455.17" y="573.05" width="2.97" height="15.7" fill="#EFB2F7"/><rect x="458.17" y="571.69" width="2.97" height="1.36" fill="#7F4A16"/><rect x="464.17" y="573.05" width="2.97" height="8.19" fill="#C6EE2E"/><rect x="467.17" y="564.52" width="2.97" height="8.53" fill="#45EF9C"/><rect x="470.17" y="573.05" width="2.97" height="3.75" fill="#E41CF4"/><rect x="473.17" y="572.37" width="2.97" height="0.68" fill="#F4553B"/><rect x="476.17" y="573.05" width="2.97" height="1.36" fill="#174F86"/><rect x="479.17" y="573.05" width="2.97" height="1.71" fill="#1F9176"/><rect x="482.17" y="566.57" width="2.97" height="6.48" fill="#B8314E"/><ellipse cx="417.65" cy="586.36" rx="1.45" ry="1.05" fill="#111"/><ellipse cx="420.65" cy="573.05" rx="1.45" ry="1.05" fill="#111"/><ellipse cx="423.65" cy="567.25" rx="1.45" ry="1.05" fill="#111"/><circle cx="423.65" cy="563.97" r="0.85" fill="#777" fill-opacity="0.85"/><ellipse cx="426.65" cy="573.05" rx="1.45" ry="1.05" fill="#111"/><ellipse cx="429.65" cy="592.16" rx="1.45" ry="1.05" fill="#111"/><ellipse cx="432.65" cy="575.44" rx="1.45" ry="1.05" fill="#111"/><circle cx="432.65" cy="578.64" r="0.85" fill="#777" fill-opacity="0.85"/><ellipse cx="435.65" cy="568.96" rx="1.45" ry="1.05" fill="#111"/><path d="M438.65 574.18V578.64M437.2 574.18H440.1M437.2 578.64H440.1" stroke="#000" stroke-width="0.9" fill="none"/><ellipse cx="438.65" cy="576.12" rx="0.9" ry="0.8" fill="#111"/><circle cx="438.65" cy="585.02" r="0.85" fill="#777" fill-opacity="0.85"/><circle cx="438.65" cy="570.99" r="0.85" fill="#777" fill-opacity="0.85"/><ellipse cx="441.65" cy="594.55" rx="1.45" ry="1.05" fill="#111"/><ellipse cx="444.65" cy="573.05" rx="1.45" ry="1.05" fill="#111"/><ellipse cx="447.65" cy="601.71" rx="1.45" ry="1.05" fill="#111"/><ellipse cx="447.65" cy="603.9" rx="1.0" ry="0.85" fill="#111"/><ellipse cx="450.65" cy="573.05" rx="1.45" ry="1.05" fill="#111"/><path d="M453.65 583.11V591.4M452.2 583.11H455.1M452.2 591.4H455.1" stroke="#000" stroke-width="0.9" fill="none"/><ellipse cx="453.65" cy="583.29" rx="0.9" ry="0.8" fill="#111"/><path d="M456.65 584.38V593.95M455.2 584.38H458.1M455.2 593.95H458.1" stroke="#000" stroke-width="0.9" fill="none"/><ellipse cx="456.65" cy="588.75" rx="0.9" ry="0.8" fill="#111"/><circle cx="456.65" cy="599.69" r="0.85" fill="#777" fill-opacity="0.85"/><ellipse cx="459.65" cy="571.69" rx="1.45" ry="1.05" fill="#111"/><ellipse cx="459.65" cy="569.71" rx="1.0" ry="0.85" fill="#111"/><ellipse cx="462.65" cy="573.05" rx="1.45" ry="1.05" fill="#111"/><path d="M465.65 577.37V585.02M464.2 577.37H467.1M464.2 585.02H467.1" stroke="#000" stroke-width="0.9" fill="none"/><ellipse cx="465.65" cy="581.24" rx="0.9" ry="0.8" fill="#111"/><circle cx="465.65" cy="590.76" r="0.85" fill="#777" fill-opacity="0.85"/><path d="M468.65 561.81V566.53M467.2 561.81H470.1M467.2 566.53H470.1" stroke="#000" stroke-width="0.9" fill="none"/><ellipse cx="468.65" cy="564.52" rx="0.9" ry="0.8" fill="#111"/><ellipse cx="471.65" cy="576.8" rx="1.45" ry="1.05" fill="#111"/><ellipse cx="474.65" cy="572.37" rx="1.45" ry="1.05" fill="#111"/><ellipse cx="477.65" cy="574.41" rx="1.45" ry="1.05" fill="#111"/><circle cx="477.65" cy="579.92" r="0.85" fill="#777" fill-opacity="0.85"/><ellipse cx="480.65" cy="574.76" rx="1.45" ry="1.05" fill="#111"/><path d="M483.65 563.34V570.35M482.2 563.34H485.1M482.2 570.35H485.1" stroke="#000" stroke-width="0.9" fill="none"/><ellipse cx="483.65" cy="566.57" rx="0.9" ry="0.8" fill="#111"/><circle cx="483.65" cy="557.6" r="0.85" fill="#777" fill-opacity="0.85"/>
<rect x="119.35" y="537" width="71.7" height="76.8" fill="#ff0000" fill-opacity="0.095"/>
<rect x="193.1" y="537" width="71.7" height="76.8" fill="#ff0000" fill-opacity="0.235"/>
<rect x="340.7" y="537" width="71.7" height="76.8" fill="#ff0000" fill-opacity="0.095"/>
<rect x="414.55" y="537" width="71.7" height="76.8" fill="#ff0000" fill-opacity="0.235"/>
<text x="84.6" y="346.8" font-size="9" text-anchor="middle" fill="#222" textLength="31.8" lengthAdjust="spacingAndGlyphs">All anc.</text>
<text x="84.6" y="358.4" font-size="9" text-anchor="middle" fill="#222" textLength="26.6" lengthAdjust="spacingAndGlyphs">no Sm</text>
<text x="154.8" y="346.8" font-size="9" text-anchor="middle" fill="#222" textLength="31.8" lengthAdjust="spacingAndGlyphs">All anc.</text>
<text x="154.8" y="358.4" font-size="9" text-anchor="middle" fill="#222" textLength="54.5" lengthAdjust="spacingAndGlyphs">low Sm level</text>
<text x="232.2" y="346.8" font-size="9" text-anchor="middle" fill="#222" textLength="31.8" lengthAdjust="spacingAndGlyphs">All anc.</text>
<text x="232.2" y="358.4" font-size="9" text-anchor="middle" fill="#222" textLength="57.8" lengthAdjust="spacingAndGlyphs">high Sm level</text>
<text x="304" y="346.8" font-size="9" text-anchor="middle" fill="#222" textLength="56.8" lengthAdjust="spacingAndGlyphs">Pre-exp. 1972</text>
<text x="304" y="358.4" font-size="9" text-anchor="middle" fill="#222" textLength="26.6" lengthAdjust="spacingAndGlyphs">no Sm</text>
<text x="377.6" y="346.8" font-size="9" text-anchor="middle" fill="#222" textLength="56.8" lengthAdjust="spacingAndGlyphs">Pre-exp. 1972</text>
<text x="377.6" y="358.4" font-size="9" text-anchor="middle" fill="#222" textLength="54.5" lengthAdjust="spacingAndGlyphs">low Sm level</text>
<text x="452.1" y="346.8" font-size="9" text-anchor="middle" fill="#222" textLength="56.8" lengthAdjust="spacingAndGlyphs">Pre-exp. 1972</text>
<text x="452.1" y="358.4" font-size="9" text-anchor="middle" fill="#222" textLength="57.8" lengthAdjust="spacingAndGlyphs">high Sm level</text>
<text x="490.9" y="402.93" font-size="9" text-anchor="middle" fill="#222" transform="rotate(90 490.9 402.93)" textLength="42.6" lengthAdjust="spacingAndGlyphs">No mixing</text>
<text x="490.9" y="488.3" font-size="9" text-anchor="middle" fill="#222" transform="rotate(90 490.9 488.3)" textLength="36.8" lengthAdjust="spacingAndGlyphs">Low rate</text>
<text x="490.9" y="576.15" font-size="9" text-anchor="middle" fill="#222" transform="rotate(90 490.9 576.15)" textLength="38.5" lengthAdjust="spacingAndGlyphs">High rate</text>
<text x="8.1" y="475.65" font-size="9.3" text-anchor="middle" fill="#222" transform="rotate(-90 8.1 475.65)" textLength="161.7" lengthAdjust="spacingAndGlyphs">Frequency change relative to Sm–free</text>
<text x="18.9" y="476.35" font-size="9.3" text-anchor="middle" fill="#222" transform="rotate(-90 18.9 476.35)" textLength="88.5" lengthAdjust="spacingAndGlyphs">condition (log(<tspan font-style="italic">f</tspan><tspan font-size="5.6" dy="1.6" font-style="italic">t2</tspan><tspan dy="-1.6">/</tspan><tspan font-style="italic">f</tspan><tspan font-size="5.6" dy="1.6" font-style="italic">t1</tspan><tspan dy="-1.6">))</tspan></text>
<text x="259.4" y="624" font-size="9.3" text-anchor="middle" fill="#222" textLength="295" lengthAdjust="spacingAndGlyphs">Species ranked by increasing intrinsic Sm resistance level (IC<tspan font-size="5.6" dy="1.6">50</tspan><tspan dy="-1.6">value)</tspan></text>
<rect x="516.4" y="373.1" width="6.0" height="7.95" fill="#EE7A35"/>
<circle cx="519.4" cy="377.4" r="0.75" fill="#222" fill-opacity="0.8"/>
<text x="527.3" y="379.7" font-size="7.4" text-anchor="start" fill="#222" textLength="111.2" lengthAdjust="spacingAndGlyphs"><tspan font-style="italic">Acinetobacter lwoffii</tspan> HAMBI 97</text>
<rect x="516.4" y="381.85" width="6.0" height="9.3" fill="#FFD02A"/>
<circle cx="519.4" cy="386.1" r="0.75" fill="#222" fill-opacity="0.8"/>
<text x="527.3" y="388.4" font-size="7.4" text-anchor="start" fill="#222" textLength="127.7" lengthAdjust="spacingAndGlyphs"><tspan font-style="italic">Microvirga lotononidis</tspan>  HAMBI 3237</text>
<rect x="516.4" y="391.95" width="6.0" height="9.7" fill="#2443F2"/>
<circle cx="519.4" cy="397.6" r="0.75" fill="#222" fill-opacity="0.8"/>
<text x="527.3" y="399.9" font-size="7.4" text-anchor="start" fill="#222" textLength="146.6" lengthAdjust="spacingAndGlyphs"><tspan font-style="italic">Paraburkholderia caryophylli</tspan> HAMBI 2159</text>
<rect x="516.4" y="402.45" width="6.0" height="8.55" fill="#1FF2E6"/>
<circle cx="519.4" cy="407.1" r="0.75" fill="#222" fill-opacity="0.8"/>
<text x="527.3" y="409.4" font-size="7.4" text-anchor="start" fill="#222" textLength="100.7" lengthAdjust="spacingAndGlyphs"><tspan font-style="italic">Moraxella canis</tspan> HAMBI 2792</text>
<rect x="516.4" y="411.8" width="6.0" height="8.4" fill="#FF2FD3"/>
<circle cx="519.4" cy="416.3" r="0.75" fill="#222" fill-opacity="0.8"/>
<text x="527.3" y="418.6" font-size="7.4" text-anchor="start" fill="#222" textLength="134" lengthAdjust="spacingAndGlyphs"><tspan font-style="italic">Paracoccus denitrificans</tspan> HAMBI 2443</text>
<rect x="516.4" y="421" width="6.0" height="8.4" fill="#3FF024"/>
<circle cx="519.4" cy="425.5" r="0.75" fill="#222" fill-opacity="0.8"/>
<text x="527.3" y="427.8" font-size="7.4" text-anchor="start" fill="#222" textLength="85.7" lengthAdjust="spacingAndGlyphs"><tspan font-style="italic">Hafnia alvei</tspan> HAMBI 1279</text>
<rect x="516.4" y="430.2" width="6.0" height="8.4" fill="#6E4B69"/>
<circle cx="519.4" cy="434.7" r="0.75" fill="#222" fill-opacity="0.8"/>
<text x="527.3" y="437" font-size="7.4" text-anchor="start" fill="#222" textLength="148.7" lengthAdjust="spacingAndGlyphs"><tspan font-style="italic">Paraburkholderia kururiensis</tspan> HAMBI 2494</text>
<rect x="516.4" y="439.4" width="6.0" height="9.7" fill="#F5106F"/>
<circle cx="519.4" cy="443.9" r="0.75" fill="#222" fill-opacity="0.8"/>
<text x="527.3" y="446.2" font-size="7.4" text-anchor="start" fill="#222" textLength="116.7" lengthAdjust="spacingAndGlyphs"><tspan font-style="italic">Kluyvera intermedia</tspan> HAMBI 1299</text>
<rect x="516.4" y="449.9" width="6.0" height="9.8" fill="#6C8F3C"/>
<circle cx="519.4" cy="455.7" r="0.75" fill="#222" fill-opacity="0.8"/>
<text x="527.3" y="458" font-size="7.4" text-anchor="start" fill="#222" textLength="117.2" lengthAdjust="spacingAndGlyphs"><tspan font-style="italic">Cupriavidus necator</tspan> HAMBI 2164</text>
<rect x="516.4" y="460.5" width="6.0" height="8.65" fill="#7DB6FF"/>
<circle cx="519.4" cy="465.1" r="0.75" fill="#222" fill-opacity="0.8"/>
<text x="527.3" y="467.4" font-size="7.4" text-anchor="start" fill="#222" textLength="123.5" lengthAdjust="spacingAndGlyphs"><tspan font-style="italic">Brevundimonas bullata</tspan> HAMBI 262</text>
<rect x="516.4" y="469.95" width="6.0" height="9.65" fill="#8200AA"/>
<circle cx="519.4" cy="474.6" r="0.75" fill="#222" fill-opacity="0.8"/>
<text x="527.3" y="476.9" font-size="7.4" text-anchor="start" fill="#222" textLength="108.3" lengthAdjust="spacingAndGlyphs"><tspan font-style="italic">Pseudomonas putida</tspan> HAMBI 6</text>
<rect x="516.4" y="480.4" width="6.0" height="10.2" fill="#FF82BA"/>
<circle cx="519.4" cy="486" r="0.75" fill="#222" fill-opacity="0.8"/>
<text x="527.3" y="488.3" font-size="7.4" text-anchor="start" fill="#222" textLength="117.2" lengthAdjust="spacingAndGlyphs"><tspan font-style="italic">Chitinophaga sancti</tspan> HAMBI 1988</text>
<rect x="516.4" y="491.4" width="6.0" height="9.35" fill="#FFD6BF"/>
<circle cx="519.4" cy="496.6" r="0.75" fill="#222" fill-opacity="0.8"/>
<text x="527.3" y="498.9" font-size="7.4" text-anchor="start" fill="#222" textLength="118.8" lengthAdjust="spacingAndGlyphs"><tspan font-style="italic">Morganella morganii</tspan> HAMBI 1292</text>
<rect x="516.4" y="501.55" width="6.0" height="8.9" fill="#EFB2F7"/>
<circle cx="519.4" cy="506.3" r="0.75" fill="#222" fill-opacity="0.8"/>
<text x="527.3" y="508.6" font-size="7.4" text-anchor="start" fill="#222" textLength="105.7" lengthAdjust="spacingAndGlyphs"><tspan font-style="italic">Bordetella avium</tspan> HAMBI 2160</text>
<rect x="516.4" y="511.25" width="6.0" height="9.2" fill="#7F4A16"/>
<circle cx="519.4" cy="516" r="0.75" fill="#222" fill-opacity="0.8"/>
<text x="527.3" y="518.3" font-size="7.4" text-anchor="start" fill="#222" textLength="141.6" lengthAdjust="spacingAndGlyphs"><tspan font-style="italic">Pseudomonas chlororaphis</tspan> HAMBI 1977</text>
<rect x="516.4" y="521.25" width="6.0" height="9.2" fill="#BEDEE6"/>
<circle cx="519.4" cy="526.3" r="0.75" fill="#222" fill-opacity="0.8"/>
<text x="527.3" y="528.6" font-size="7.4" text-anchor="start" fill="#222" textLength="109.9" lengthAdjust="spacingAndGlyphs"><tspan font-style="italic">Aeromonas caviae</tspan> HAMBI 1972</text>
<rect x="516.4" y="531.25" width="6.0" height="9.05" fill="#C6EE2E"/>
<circle cx="519.4" cy="536" r="0.75" fill="#222" fill-opacity="0.8"/>
<text x="527.3" y="538.3" font-size="7.4" text-anchor="start" fill="#222" textLength="124.8" lengthAdjust="spacingAndGlyphs"><tspan font-style="italic">Niabella yanshanensis</tspan> HAMBI 3031</text>
<rect x="516.4" y="541.1" width="6.0" height="9.45" fill="#45EF9C"/>
<circle cx="519.4" cy="546" r="0.75" fill="#222" fill-opacity="0.8"/>
<text x="527.3" y="548.3" font-size="7.4" text-anchor="start" fill="#222" textLength="132.2" lengthAdjust="spacingAndGlyphs"><tspan font-style="italic">Comamonas testosteroni</tspan> HAMBI 403</text>
<rect x="516.4" y="551.35" width="6.0" height="9.55" fill="#E41CF4"/>
<circle cx="519.4" cy="556.5" r="0.75" fill="#222" fill-opacity="0.8"/>
<text x="527.3" y="558.8" font-size="7.4" text-anchor="start" fill="#222" textLength="140.9" lengthAdjust="spacingAndGlyphs"><tspan font-style="italic">Agrobacterium tumefaciens</tspan> HAMBI 105</text>
<rect x="516.4" y="561.7" width="6.0" height="9.6" fill="#F4553B"/>
<circle cx="519.4" cy="566.7" r="0.75" fill="#222" fill-opacity="0.8"/>
<text x="527.3" y="569" font-size="7.4" text-anchor="start" fill="#222" textLength="157.2" lengthAdjust="spacingAndGlyphs"><tspan font-style="italic">Sphingobacterium spiritivorum</tspan> HAMBI 1896</text>
<rect x="516.4" y="572.1" width="6.0" height="9.35" fill="#174F86"/>
<circle cx="519.4" cy="577.3" r="0.75" fill="#222" fill-opacity="0.8"/>
<text x="527.3" y="579.6" font-size="7.4" text-anchor="start" fill="#222" textLength="108.3" lengthAdjust="spacingAndGlyphs"><tspan font-style="italic">Citrobacter koseri</tspan> HAMBI 1287</text>
<rect x="516.4" y="582.25" width="6.0" height="9.8" fill="#1F9176"/>
<circle cx="519.4" cy="587" r="0.75" fill="#222" fill-opacity="0.8"/>
<text x="527.3" y="589.3" font-size="7.4" text-anchor="start" fill="#222" textLength="135.1" lengthAdjust="spacingAndGlyphs"><tspan font-style="italic">Sphingobium yanoikuyae</tspan> HAMBI 1842</text>
<rect x="516.4" y="592.85" width="6.0" height="9.95" fill="#B8314E"/>
<circle cx="519.4" cy="598.5" r="0.75" fill="#222" fill-opacity="0.8"/>
<text x="527.3" y="600.8" font-size="7.4" text-anchor="start" fill="#222" textLength="157.2" lengthAdjust="spacingAndGlyphs"><tspan font-style="italic">Stenotrophomonas maltophilia</tspan> HAMBI 2659</text>
</svg>
</body></html>
